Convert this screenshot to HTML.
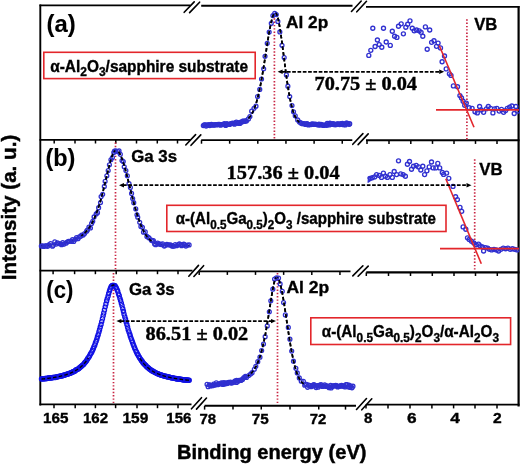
<!DOCTYPE html>
<html><head><meta charset="utf-8"><title>XPS band offset figure</title>
<style>html,body{margin:0;padding:0;background:#fff;}svg{display:block;filter:blur(0.35px);}</style></head>
<body><svg width="520" height="464" viewBox="0 0 520 464">
<rect width="520" height="464" fill="#fff"/>
<line x1="39.5" y1="5.4" x2="190.5" y2="5.4" stroke="#000" stroke-width="1.9"/>
<line x1="201.2" y1="5.7" x2="352.5" y2="5.7" stroke="#000" stroke-width="1.9"/>
<line x1="366" y1="6.9" x2="519.5" y2="6.9" stroke="#000" stroke-width="1.9"/>
<line x1="184.2" y1="12.3" x2="194.2" y2="1.9" stroke="#000" stroke-width="1.6" stroke-linecap="round"/>
<line x1="189.6" y1="12.6" x2="199.6" y2="2.2" stroke="#000" stroke-width="1.6" stroke-linecap="round"/>
<line x1="351.5" y1="11.5" x2="361.2" y2="1" stroke="#000" stroke-width="1.6" stroke-linecap="round"/>
<line x1="356.8" y1="11.8" x2="366.5" y2="1.3" stroke="#000" stroke-width="1.6" stroke-linecap="round"/>
<line x1="39.5" y1="139.9" x2="190.8" y2="139.9" stroke="#000" stroke-width="1.9"/>
<line x1="201.2" y1="140.1" x2="352.3" y2="140.1" stroke="#000" stroke-width="1.9"/>
<line x1="366" y1="140.3" x2="519.5" y2="140.3" stroke="#000" stroke-width="1.9"/>
<line x1="185.8" y1="145" x2="195.6" y2="134.6" stroke="#000" stroke-width="1.6" stroke-linecap="round"/>
<line x1="191" y1="145.3" x2="200.8" y2="134.9" stroke="#000" stroke-width="1.6" stroke-linecap="round"/>
<line x1="352.8" y1="144.3" x2="362.9" y2="133.6" stroke="#000" stroke-width="1.6" stroke-linecap="round"/>
<line x1="358.1" y1="144.6" x2="368.2" y2="133.9" stroke="#000" stroke-width="1.6" stroke-linecap="round"/>
<line x1="54.2" y1="139.9" x2="54.2" y2="143.5" stroke="#000" stroke-width="1.5"/>
<line x1="75" y1="139.9" x2="75" y2="143.5" stroke="#000" stroke-width="1.5"/>
<line x1="95.5" y1="139.9" x2="95.5" y2="143.5" stroke="#000" stroke-width="1.5"/>
<line x1="115.8" y1="139.9" x2="115.8" y2="143.5" stroke="#000" stroke-width="1.5"/>
<line x1="136.5" y1="139.9" x2="136.5" y2="143.5" stroke="#000" stroke-width="1.5"/>
<line x1="157.3" y1="139.9" x2="157.3" y2="143.5" stroke="#000" stroke-width="1.5"/>
<line x1="177.5" y1="139.9" x2="177.5" y2="143.5" stroke="#000" stroke-width="1.5"/>
<line x1="201.5" y1="140.1" x2="201.5" y2="143.7" stroke="#000" stroke-width="1.5"/>
<line x1="229.65" y1="140.1" x2="229.65" y2="143.7" stroke="#000" stroke-width="1.5"/>
<line x1="257.8" y1="140.1" x2="257.8" y2="143.7" stroke="#000" stroke-width="1.5"/>
<line x1="285.95" y1="140.1" x2="285.95" y2="143.7" stroke="#000" stroke-width="1.5"/>
<line x1="314.1" y1="140.1" x2="314.1" y2="143.7" stroke="#000" stroke-width="1.5"/>
<line x1="342.25" y1="140.1" x2="342.25" y2="143.7" stroke="#000" stroke-width="1.5"/>
<line x1="367" y1="140.3" x2="367" y2="143.9" stroke="#000" stroke-width="1.5"/>
<line x1="389" y1="140.3" x2="389" y2="143.9" stroke="#000" stroke-width="1.5"/>
<line x1="410.8" y1="140.3" x2="410.8" y2="143.9" stroke="#000" stroke-width="1.5"/>
<line x1="432.5" y1="140.3" x2="432.5" y2="143.9" stroke="#000" stroke-width="1.5"/>
<line x1="454" y1="140.3" x2="454" y2="143.9" stroke="#000" stroke-width="1.5"/>
<line x1="475.5" y1="140.3" x2="475.5" y2="143.9" stroke="#000" stroke-width="1.5"/>
<line x1="497" y1="140.3" x2="497" y2="143.9" stroke="#000" stroke-width="1.5"/>
<line x1="39.5" y1="270.6" x2="192.5" y2="270.6" stroke="#000" stroke-width="1.9"/>
<line x1="199.5" y1="271.4" x2="350.5" y2="271.4" stroke="#000" stroke-width="1.9"/>
<line x1="366.3" y1="272.4" x2="519.5" y2="272.4" stroke="#000" stroke-width="2.4"/>
<line x1="188.8" y1="276.2" x2="198.5" y2="265.4" stroke="#000" stroke-width="1.6" stroke-linecap="round"/>
<line x1="193.9" y1="276.5" x2="203.6" y2="265.7" stroke="#000" stroke-width="1.6" stroke-linecap="round"/>
<line x1="352.8" y1="275.9" x2="362.9" y2="265.8" stroke="#000" stroke-width="1.6" stroke-linecap="round"/>
<line x1="358.1" y1="276.2" x2="368.2" y2="266.1" stroke="#000" stroke-width="1.6" stroke-linecap="round"/>
<line x1="53.1" y1="270.6" x2="53.1" y2="274.2" stroke="#000" stroke-width="1.5"/>
<line x1="74.6" y1="270.6" x2="74.6" y2="274.2" stroke="#000" stroke-width="1.5"/>
<line x1="95.4" y1="270.6" x2="95.4" y2="274.2" stroke="#000" stroke-width="1.5"/>
<line x1="116.2" y1="270.6" x2="116.2" y2="274.2" stroke="#000" stroke-width="1.5"/>
<line x1="136.8" y1="270.6" x2="136.8" y2="274.2" stroke="#000" stroke-width="1.5"/>
<line x1="157.5" y1="270.6" x2="157.5" y2="274.2" stroke="#000" stroke-width="1.5"/>
<line x1="178" y1="270.6" x2="178" y2="274.2" stroke="#000" stroke-width="1.5"/>
<line x1="199.2" y1="271.3" x2="199.2" y2="274.9" stroke="#000" stroke-width="1.5"/>
<line x1="227.35" y1="271.3" x2="227.35" y2="274.9" stroke="#000" stroke-width="1.5"/>
<line x1="255.5" y1="271.3" x2="255.5" y2="274.9" stroke="#000" stroke-width="1.5"/>
<line x1="283.65" y1="271.3" x2="283.65" y2="274.9" stroke="#000" stroke-width="1.5"/>
<line x1="311.8" y1="271.3" x2="311.8" y2="274.9" stroke="#000" stroke-width="1.5"/>
<line x1="339.95" y1="271.3" x2="339.95" y2="274.9" stroke="#000" stroke-width="1.5"/>
<line x1="366.3" y1="272.4" x2="366.3" y2="276" stroke="#000" stroke-width="1.5"/>
<line x1="388.5" y1="272.4" x2="388.5" y2="276" stroke="#000" stroke-width="1.5"/>
<line x1="410.5" y1="272.4" x2="410.5" y2="276" stroke="#000" stroke-width="1.5"/>
<line x1="432.3" y1="272.4" x2="432.3" y2="276" stroke="#000" stroke-width="1.5"/>
<line x1="454" y1="272.4" x2="454" y2="276" stroke="#000" stroke-width="1.5"/>
<line x1="475.5" y1="272.4" x2="475.5" y2="276" stroke="#000" stroke-width="1.5"/>
<line x1="497.3" y1="272.4" x2="497.3" y2="276" stroke="#000" stroke-width="1.5"/>
<line x1="39.5" y1="404.4" x2="191.5" y2="404.4" stroke="#000" stroke-width="1.9"/>
<line x1="204.6" y1="405.8" x2="356" y2="405.8" stroke="#000" stroke-width="1.9"/>
<line x1="366.5" y1="404.6" x2="519.5" y2="404.6" stroke="#000" stroke-width="1.9"/>
<line x1="191.5" y1="408.8" x2="201.5" y2="397.7" stroke="#000" stroke-width="1.6" stroke-linecap="round"/>
<line x1="196.5" y1="409.1" x2="206.5" y2="398" stroke="#000" stroke-width="1.6" stroke-linecap="round"/>
<line x1="356.5" y1="409.5" x2="366.5" y2="398.5" stroke="#000" stroke-width="1.6" stroke-linecap="round"/>
<line x1="361.8" y1="409.8" x2="371.8" y2="398.8" stroke="#000" stroke-width="1.6" stroke-linecap="round"/>
<line x1="54" y1="404.4" x2="54" y2="408.2" stroke="#000" stroke-width="1.5"/>
<line x1="75.2" y1="404.4" x2="75.2" y2="408.2" stroke="#000" stroke-width="1.5"/>
<line x1="95.4" y1="404.4" x2="95.4" y2="408.2" stroke="#000" stroke-width="1.5"/>
<line x1="115.6" y1="404.4" x2="115.6" y2="408.2" stroke="#000" stroke-width="1.5"/>
<line x1="137" y1="404.4" x2="137" y2="408.2" stroke="#000" stroke-width="1.5"/>
<line x1="157.5" y1="404.4" x2="157.5" y2="408.2" stroke="#000" stroke-width="1.5"/>
<line x1="178" y1="404.4" x2="178" y2="408.2" stroke="#000" stroke-width="1.5"/>
<line x1="204.6" y1="405.8" x2="204.6" y2="409.6" stroke="#000" stroke-width="1.5"/>
<line x1="233" y1="405.8" x2="233" y2="409.6" stroke="#000" stroke-width="1.5"/>
<line x1="261.25" y1="405.8" x2="261.25" y2="409.6" stroke="#000" stroke-width="1.5"/>
<line x1="290" y1="405.8" x2="290" y2="409.6" stroke="#000" stroke-width="1.5"/>
<line x1="318.75" y1="405.8" x2="318.75" y2="409.6" stroke="#000" stroke-width="1.5"/>
<line x1="345.5" y1="405.8" x2="345.5" y2="409.6" stroke="#000" stroke-width="1.5"/>
<line x1="366" y1="404.6" x2="366" y2="408.4" stroke="#000" stroke-width="1.5"/>
<line x1="388" y1="404.6" x2="388" y2="408.4" stroke="#000" stroke-width="1.5"/>
<line x1="410" y1="404.6" x2="410" y2="408.4" stroke="#000" stroke-width="1.5"/>
<line x1="431.9" y1="404.6" x2="431.9" y2="408.4" stroke="#000" stroke-width="1.5"/>
<line x1="453.6" y1="404.6" x2="453.6" y2="408.4" stroke="#000" stroke-width="1.5"/>
<line x1="475" y1="404.6" x2="475" y2="408.4" stroke="#000" stroke-width="1.5"/>
<line x1="497" y1="404.6" x2="497" y2="408.4" stroke="#000" stroke-width="1.5"/>
<line x1="40.3" y1="4.5" x2="40.3" y2="405.4" stroke="#000" stroke-width="1.9"/>
<line x1="518.6" y1="6" x2="518.6" y2="406.4" stroke="#000" stroke-width="2.2"/>
<line x1="274.4" y1="15" x2="274.4" y2="139" stroke="#c82442" stroke-width="1.7" stroke-dasharray="1.4 1.9"/>
<line x1="466.9" y1="19.3" x2="466.9" y2="139.5" stroke="#c82442" stroke-width="1.7" stroke-dasharray="1.4 1.9"/>
<line x1="115.5" y1="142.5" x2="115.5" y2="270" stroke="#c82442" stroke-width="1.7" stroke-dasharray="1.4 1.9"/>
<line x1="474.7" y1="159.3" x2="474.7" y2="271" stroke="#c82442" stroke-width="1.7" stroke-dasharray="1.4 1.9"/>
<line x1="113.5" y1="273" x2="113.5" y2="404" stroke="#c82442" stroke-width="1.7" stroke-dasharray="1.4 1.9"/>
<line x1="277.5" y1="273" x2="277.5" y2="405" stroke="#c82442" stroke-width="1.7" stroke-dasharray="1.4 1.9"/>
<polyline points="203.3,125.41 203.59,125.4 203.89,125.39 204.18,125.38 204.48,125.37 204.77,125.36 205.07,125.35 205.36,125.34 205.66,125.33 205.95,125.32 206.25,125.31 206.54,125.29 206.84,125.28 207.13,125.27 207.43,125.26 207.72,125.25 208.02,125.24 208.31,125.23 208.61,125.22 208.9,125.21 209.2,125.19 209.49,125.18 209.79,125.17 210.08,125.16 210.38,125.15 210.67,125.13 210.97,125.12 211.26,125.11 211.56,125.1 211.85,125.09 212.15,125.07 212.44,125.06 212.74,125.05 213.03,125.03 213.33,125.02 213.62,125.01 213.92,124.99 214.21,124.98 214.51,124.97 214.8,124.95 215.1,124.94 215.39,124.92 215.69,124.91 215.98,124.9 216.28,124.88 216.57,124.87 216.87,124.85 217.16,124.84 217.46,124.82 217.75,124.81 218.05,124.79 218.34,124.77 218.64,124.76 218.93,124.74 219.23,124.73 219.52,124.71 219.82,124.69 220.11,124.68 220.41,124.66 220.7,124.64 221,124.62 221.29,124.61 221.59,124.59 221.88,124.57 222.18,124.55 222.47,124.53 222.77,124.52 223.06,124.5 223.36,124.48 223.65,124.46 223.95,124.44 224.24,124.42 224.54,124.4 224.83,124.38 225.13,124.36 225.42,124.33 225.72,124.31 226.01,124.29 226.31,124.27 226.6,124.25 226.9,124.22 227.19,124.2 227.49,124.18 227.78,124.15 228.08,124.13 228.37,124.1 228.67,124.08 228.96,124.05 229.26,124.03 229.55,124 229.85,123.98 230.14,123.95 230.44,123.92 230.73,123.89 231.03,123.86 231.32,123.83 231.62,123.81 231.91,123.77 232.21,123.74 232.5,123.71 232.8,123.68 233.09,123.65 233.39,123.61 233.68,123.58 233.98,123.54 234.27,123.51 234.57,123.47 234.86,123.43 235.16,123.39 235.45,123.35 235.75,123.31 236.04,123.27 236.34,123.23 236.63,123.18 236.93,123.14 237.22,123.09 237.52,123.04 237.81,122.99 238.11,122.94 238.4,122.88 238.7,122.83 238.99,122.77 239.29,122.71 239.58,122.64 239.88,122.58 240.17,122.51 240.47,122.44 240.76,122.36 241.06,122.28 241.35,122.2 241.65,122.12 241.94,122.03 242.24,121.93 242.53,121.84 242.83,121.73 243.12,121.62 243.42,121.51 243.71,121.39 244.01,121.26 244.3,121.13 244.6,120.99 244.89,120.85 245.19,120.69 245.48,120.53 245.78,120.35 246.07,120.17 246.37,119.98 246.66,119.78 246.96,119.56 247.25,119.34 247.55,119.1 247.84,118.85 248.14,118.59 248.43,118.31 248.73,118.01 249.02,117.7 249.32,117.38 249.61,117.03 249.91,116.67 250.2,116.29 250.5,115.89 250.79,115.47 251.09,115.03 251.38,114.56 251.68,114.07 251.97,113.56 252.27,113.02 252.56,112.46 252.86,111.87 253.15,111.25 253.45,110.6 253.74,109.93 254.04,109.22 254.33,108.48 254.63,107.71 254.92,106.91 255.22,106.08 255.51,105.21 255.81,104.31 256.1,103.37 256.4,102.39 256.69,101.38 256.99,100.33 257.28,99.25 257.58,98.13 257.87,96.97 258.17,95.77 258.46,94.53 258.76,93.26 259.05,91.95 259.35,90.6 259.64,89.21 259.94,87.79 260.23,86.33 260.53,84.83 260.82,83.3 261.12,81.73 261.41,80.14 261.71,78.5 262,76.84 262.3,75.15 262.59,73.43 262.89,71.68 263.18,69.91 263.48,68.11 263.77,66.29 264.07,64.45 264.36,62.6 264.66,60.73 264.95,58.85 265.25,56.96 265.54,55.06 265.84,53.16 266.13,51.26 266.43,49.36 266.72,47.47 267.02,45.59 267.31,43.71 267.61,41.86 267.9,40.03 268.2,38.22 268.49,36.44 268.79,34.69 269.08,32.97 269.38,31.3 269.67,29.68 269.97,28.1 270.26,26.58 270.56,25.11 270.85,23.71 271.15,22.37 271.44,21.11 271.74,19.92 272.03,18.81 272.33,17.78 272.62,16.85 272.92,16 273.21,15.24 273.51,14.58 273.8,14.02 274.1,13.57 274.39,13.21 274.69,12.96 274.98,12.81 275.28,12.78 275.57,12.86 275.87,13.08 276.16,13.43 276.46,13.91 276.75,14.52 277.05,15.25 277.34,16.11 277.64,17.09 277.93,18.18 278.23,19.39 278.52,20.71 278.82,22.13 279.11,23.65 279.41,25.26 279.7,26.96 280,28.75 280.29,30.61 280.59,32.54 280.88,34.54 281.18,36.59 281.47,38.7 281.77,40.85 282.06,43.04 282.36,45.27 282.65,47.53 282.95,49.8 283.24,52.1 283.54,54.4 283.83,56.71 284.13,59.02 284.42,61.32 284.72,63.61 285.01,65.88 285.31,68.14 285.6,70.37 285.9,72.57 286.19,74.74 286.49,76.87 286.78,78.96 287.08,81.01 287.37,83.02 287.67,84.98 287.96,86.88 288.26,88.74 288.55,90.55 288.85,92.3 289.14,93.99 289.44,95.63 289.73,97.21 290.03,98.74 290.32,100.2 290.62,101.61 290.91,102.96 291.21,104.26 291.5,105.5 291.8,106.68 292.09,107.81 292.39,108.88 292.68,109.91 292.98,110.88 293.27,111.8 293.57,112.67 293.86,113.49 294.16,114.27 294.45,115 294.75,115.69 295.04,116.34 295.34,116.95 295.63,117.53 295.93,118.06 296.22,118.56 296.52,119.03 296.81,119.47 297.11,119.88 297.4,120.26 297.7,120.61 297.99,120.94 298.29,121.24 298.58,121.52 298.88,121.78 299.17,122.02 299.47,122.24 299.76,122.45 300.06,122.63 300.35,122.81 300.65,122.96 300.94,123.11 301.24,123.24 301.53,123.36 301.83,123.48 302.12,123.58 302.42,123.67 302.71,123.75 303.01,123.83 303.3,123.9 303.6,123.96 303.89,124.02 304.19,124.07 304.48,124.12 304.78,124.16 305.07,124.2 305.37,124.24 305.66,124.27 305.96,124.3 306.25,124.32 306.55,124.35 306.84,124.37 307.14,124.38 307.43,124.4 307.73,124.42 308.02,124.43 308.32,124.44 308.61,124.45 308.91,124.46 309.2,124.47 309.5,124.48 309.79,124.48 310.09,124.49 310.38,124.49 310.68,124.5 310.97,124.5 311.27,124.51 311.56,124.51 311.86,124.51 312.15,124.52 312.45,124.52 312.74,124.52 313.04,124.52 313.33,124.52 313.63,124.52 313.92,124.52 314.22,124.52 314.51,124.52 314.81,124.52 315.1,124.52 315.4,124.52 315.69,124.52 315.99,124.52 316.28,124.52 316.58,124.52 316.87,124.52 317.17,124.52 317.46,124.52 317.76,124.52 318.05,124.52 318.35,124.52 318.64,124.52 318.94,124.52 319.23,124.52 319.53,124.52 319.82,124.51 320.12,124.51 320.41,124.51 320.71,124.51 321,124.51 321.3,124.51 321.59,124.51 321.89,124.5 322.18,124.5 322.48,124.5 322.77,124.5 323.07,124.5 323.36,124.5 323.66,124.49 323.95,124.49 324.25,124.49 324.54,124.49 324.84,124.49 325.13,124.49 325.43,124.48 325.72,124.48 326.02,124.48 326.31,124.48 326.61,124.48 326.9,124.47 327.2,124.47 327.49,124.47 327.79,124.47 328.08,124.46 328.38,124.46 328.67,124.46 328.97,124.46 329.26,124.46 329.56,124.45 329.85,124.45 330.15,124.45 330.44,124.45 330.74,124.44 331.03,124.44 331.33,124.44 331.62,124.44 331.92,124.43 332.21,124.43 332.51,124.43 332.8,124.43 333.1,124.42 333.39,124.42 333.69,124.42 333.98,124.42 334.28,124.41 334.57,124.41 334.87,124.41 335.16,124.41 335.46,124.4 335.75,124.4 336.05,124.4 336.34,124.39 336.64,124.39 336.93,124.39 337.23,124.39 337.52,124.38 337.82,124.38 338.11,124.38 338.41,124.38 338.7,124.37 339,124.37 339.29,124.37 339.59,124.36 339.88,124.36 340.18,124.36 340.47,124.36 340.77,124.35 341.06,124.35 341.36,124.35 341.65,124.34 341.95,124.34 342.24,124.34 342.54,124.34 342.83,124.33 343.13,124.33 343.42,124.33 343.72,124.32 344.01,124.32 344.31,124.32 344.6,124.31 344.9,124.31 345.19,124.31 345.49,124.31 345.78,124.3 346.08,124.3 346.37,124.3 346.67,124.29 346.96,124.29 347.26,124.29 347.55,124.28 347.85,124.28 348.14,124.28 348.44,124.27 348.73,124.27 349.03,124.27 349.32,124.26 349.62,124.26 349.91,124.26 350.21,124.26 350.5,124.25" fill="none" stroke="#000" stroke-width="1.7" stroke-dasharray="3.6 2.2"/>
<circle cx="203.3" cy="125.59" r="1.95" fill="none" stroke="#3030d0" stroke-width="1.3"/>
<circle cx="204.19" cy="124.84" r="1.95" fill="none" stroke="#3030d0" stroke-width="1.3"/>
<circle cx="205.1" cy="124.75" r="1.95" fill="none" stroke="#3030d0" stroke-width="1.3"/>
<circle cx="206.13" cy="126.11" r="1.95" fill="none" stroke="#3030d0" stroke-width="1.3"/>
<circle cx="206.97" cy="124.9" r="1.95" fill="none" stroke="#3030d0" stroke-width="1.3"/>
<circle cx="208.09" cy="125.45" r="1.95" fill="none" stroke="#3030d0" stroke-width="1.3"/>
<circle cx="208.96" cy="124.65" r="1.95" fill="none" stroke="#3030d0" stroke-width="1.3"/>
<circle cx="209.87" cy="125.58" r="1.95" fill="none" stroke="#3030d0" stroke-width="1.3"/>
<circle cx="210.58" cy="124.85" r="1.95" fill="none" stroke="#3030d0" stroke-width="1.3"/>
<circle cx="211.42" cy="124.32" r="1.95" fill="none" stroke="#3030d0" stroke-width="1.3"/>
<circle cx="212.37" cy="124.91" r="1.95" fill="none" stroke="#3030d0" stroke-width="1.3"/>
<circle cx="213.41" cy="125.17" r="1.95" fill="none" stroke="#3030d0" stroke-width="1.3"/>
<circle cx="214.61" cy="124.85" r="1.95" fill="none" stroke="#3030d0" stroke-width="1.3"/>
<circle cx="215.07" cy="124.6" r="1.95" fill="none" stroke="#3030d0" stroke-width="1.3"/>
<circle cx="216.45" cy="124.94" r="1.95" fill="none" stroke="#3030d0" stroke-width="1.3"/>
<circle cx="217.12" cy="124.54" r="1.95" fill="none" stroke="#3030d0" stroke-width="1.3"/>
<circle cx="218.16" cy="124.29" r="1.95" fill="none" stroke="#3030d0" stroke-width="1.3"/>
<circle cx="219.47" cy="124.24" r="1.95" fill="none" stroke="#3030d0" stroke-width="1.3"/>
<circle cx="220.21" cy="125.2" r="1.95" fill="none" stroke="#3030d0" stroke-width="1.3"/>
<circle cx="221.05" cy="124.55" r="1.95" fill="none" stroke="#3030d0" stroke-width="1.3"/>
<circle cx="222.12" cy="124.6" r="1.95" fill="none" stroke="#3030d0" stroke-width="1.3"/>
<circle cx="222.82" cy="124.54" r="1.95" fill="none" stroke="#3030d0" stroke-width="1.3"/>
<circle cx="224.22" cy="123.51" r="1.95" fill="none" stroke="#3030d0" stroke-width="1.3"/>
<circle cx="225.07" cy="124.44" r="1.95" fill="none" stroke="#3030d0" stroke-width="1.3"/>
<circle cx="225.74" cy="125.5" r="1.95" fill="none" stroke="#3030d0" stroke-width="1.3"/>
<circle cx="226.94" cy="123.51" r="1.95" fill="none" stroke="#3030d0" stroke-width="1.3"/>
<circle cx="227.75" cy="124.5" r="1.95" fill="none" stroke="#3030d0" stroke-width="1.3"/>
<circle cx="228.65" cy="124.49" r="1.95" fill="none" stroke="#3030d0" stroke-width="1.3"/>
<circle cx="229.61" cy="124.4" r="1.95" fill="none" stroke="#3030d0" stroke-width="1.3"/>
<circle cx="230.82" cy="123.5" r="1.95" fill="none" stroke="#3030d0" stroke-width="1.3"/>
<circle cx="231.54" cy="123.54" r="1.95" fill="none" stroke="#3030d0" stroke-width="1.3"/>
<circle cx="232.46" cy="123.01" r="1.95" fill="none" stroke="#3030d0" stroke-width="1.3"/>
<circle cx="233.28" cy="123.5" r="1.95" fill="none" stroke="#3030d0" stroke-width="1.3"/>
<circle cx="234.48" cy="124.19" r="1.95" fill="none" stroke="#3030d0" stroke-width="1.3"/>
<circle cx="235.02" cy="122.9" r="1.95" fill="none" stroke="#3030d0" stroke-width="1.3"/>
<circle cx="236.32" cy="122.05" r="1.95" fill="none" stroke="#3030d0" stroke-width="1.3"/>
<circle cx="237.06" cy="123.04" r="1.95" fill="none" stroke="#3030d0" stroke-width="1.3"/>
<circle cx="238.31" cy="123.36" r="1.95" fill="none" stroke="#3030d0" stroke-width="1.3"/>
<circle cx="238.96" cy="122.54" r="1.95" fill="none" stroke="#3030d0" stroke-width="1.3"/>
<circle cx="239.91" cy="123.47" r="1.95" fill="none" stroke="#3030d0" stroke-width="1.3"/>
<circle cx="240.82" cy="122.14" r="1.95" fill="none" stroke="#3030d0" stroke-width="1.3"/>
<circle cx="241.9" cy="121.99" r="1.95" fill="none" stroke="#3030d0" stroke-width="1.3"/>
<circle cx="242.74" cy="121.08" r="1.95" fill="none" stroke="#3030d0" stroke-width="1.3"/>
<circle cx="243.72" cy="121.12" r="1.95" fill="none" stroke="#3030d0" stroke-width="1.3"/>
<circle cx="244.87" cy="121.35" r="1.95" fill="none" stroke="#3030d0" stroke-width="1.3"/>
<circle cx="245.6" cy="120.86" r="1.95" fill="none" stroke="#3030d0" stroke-width="1.3"/>
<circle cx="246.44" cy="120.92" r="1.95" fill="none" stroke="#3030d0" stroke-width="1.3"/>
<circle cx="248.42" cy="118.9" r="1.95" fill="none" stroke="#3030d0" stroke-width="1.3"/>
<circle cx="249.91" cy="116.51" r="1.95" fill="none" stroke="#3030d0" stroke-width="1.3"/>
<circle cx="251.67" cy="111.15" r="1.95" fill="none" stroke="#3030d0" stroke-width="1.3"/>
<circle cx="253.97" cy="108.27" r="1.95" fill="none" stroke="#3030d0" stroke-width="1.3"/>
<circle cx="255.99" cy="106.14" r="1.95" fill="none" stroke="#3030d0" stroke-width="1.3"/>
<circle cx="257.57" cy="96.55" r="1.95" fill="none" stroke="#3030d0" stroke-width="1.3"/>
<circle cx="259.76" cy="89.43" r="1.95" fill="none" stroke="#3030d0" stroke-width="1.3"/>
<circle cx="261.53" cy="79.01" r="1.95" fill="none" stroke="#3030d0" stroke-width="1.3"/>
<circle cx="263.67" cy="68.74" r="1.95" fill="none" stroke="#3030d0" stroke-width="1.3"/>
<circle cx="265.03" cy="56.29" r="1.95" fill="none" stroke="#3030d0" stroke-width="1.3"/>
<circle cx="267.23" cy="43.25" r="1.95" fill="none" stroke="#3030d0" stroke-width="1.3"/>
<circle cx="269.18" cy="32.02" r="1.95" fill="none" stroke="#3030d0" stroke-width="1.3"/>
<circle cx="271.27" cy="23.32" r="1.95" fill="none" stroke="#3030d0" stroke-width="1.3"/>
<circle cx="272.89" cy="15.56" r="1.95" fill="none" stroke="#3030d0" stroke-width="1.3"/>
<circle cx="274.7" cy="13.38" r="1.95" fill="none" stroke="#3030d0" stroke-width="1.3"/>
<circle cx="276.28" cy="14.59" r="1.95" fill="none" stroke="#3030d0" stroke-width="1.3"/>
<circle cx="277.86" cy="21.45" r="1.95" fill="none" stroke="#3030d0" stroke-width="1.3"/>
<circle cx="279.86" cy="31.93" r="1.95" fill="none" stroke="#3030d0" stroke-width="1.3"/>
<circle cx="282.01" cy="45.31" r="1.95" fill="none" stroke="#3030d0" stroke-width="1.3"/>
<circle cx="284.18" cy="57.58" r="1.95" fill="none" stroke="#3030d0" stroke-width="1.3"/>
<circle cx="286.39" cy="74.92" r="1.95" fill="none" stroke="#3030d0" stroke-width="1.3"/>
<circle cx="287.88" cy="86.21" r="1.95" fill="none" stroke="#3030d0" stroke-width="1.3"/>
<circle cx="289.73" cy="96.49" r="1.95" fill="none" stroke="#3030d0" stroke-width="1.3"/>
<circle cx="291.99" cy="105.6" r="1.95" fill="none" stroke="#3030d0" stroke-width="1.3"/>
<circle cx="293.52" cy="111.8" r="1.95" fill="none" stroke="#3030d0" stroke-width="1.3"/>
<circle cx="295.23" cy="115.84" r="1.95" fill="none" stroke="#3030d0" stroke-width="1.3"/>
<circle cx="297.68" cy="119.97" r="1.95" fill="none" stroke="#3030d0" stroke-width="1.3"/>
<circle cx="299.47" cy="122.04" r="1.95" fill="none" stroke="#3030d0" stroke-width="1.3"/>
<circle cx="300.94" cy="122.97" r="1.95" fill="none" stroke="#3030d0" stroke-width="1.3"/>
<circle cx="301.9" cy="123.54" r="1.95" fill="none" stroke="#3030d0" stroke-width="1.3"/>
<circle cx="302.87" cy="123.63" r="1.95" fill="none" stroke="#3030d0" stroke-width="1.3"/>
<circle cx="303.63" cy="123.54" r="1.95" fill="none" stroke="#3030d0" stroke-width="1.3"/>
<circle cx="305.12" cy="123.77" r="1.95" fill="none" stroke="#3030d0" stroke-width="1.3"/>
<circle cx="305.57" cy="124.48" r="1.95" fill="none" stroke="#3030d0" stroke-width="1.3"/>
<circle cx="306.95" cy="123.48" r="1.95" fill="none" stroke="#3030d0" stroke-width="1.3"/>
<circle cx="307.6" cy="124.03" r="1.95" fill="none" stroke="#3030d0" stroke-width="1.3"/>
<circle cx="308.26" cy="124.89" r="1.95" fill="none" stroke="#3030d0" stroke-width="1.3"/>
<circle cx="309.52" cy="124.52" r="1.95" fill="none" stroke="#3030d0" stroke-width="1.3"/>
<circle cx="310.32" cy="124.77" r="1.95" fill="none" stroke="#3030d0" stroke-width="1.3"/>
<circle cx="311.3" cy="124.42" r="1.95" fill="none" stroke="#3030d0" stroke-width="1.3"/>
<circle cx="312.14" cy="123.79" r="1.95" fill="none" stroke="#3030d0" stroke-width="1.3"/>
<circle cx="313.52" cy="124.22" r="1.95" fill="none" stroke="#3030d0" stroke-width="1.3"/>
<circle cx="314.27" cy="124.5" r="1.95" fill="none" stroke="#3030d0" stroke-width="1.3"/>
<circle cx="315.08" cy="124.22" r="1.95" fill="none" stroke="#3030d0" stroke-width="1.3"/>
<circle cx="316.21" cy="124.34" r="1.95" fill="none" stroke="#3030d0" stroke-width="1.3"/>
<circle cx="317.01" cy="124.54" r="1.95" fill="none" stroke="#3030d0" stroke-width="1.3"/>
<circle cx="318.19" cy="124.93" r="1.95" fill="none" stroke="#3030d0" stroke-width="1.3"/>
<circle cx="318.99" cy="124.18" r="1.95" fill="none" stroke="#3030d0" stroke-width="1.3"/>
<circle cx="319.61" cy="125.08" r="1.95" fill="none" stroke="#3030d0" stroke-width="1.3"/>
<circle cx="320.97" cy="124.43" r="1.95" fill="none" stroke="#3030d0" stroke-width="1.3"/>
<circle cx="321.84" cy="124.97" r="1.95" fill="none" stroke="#3030d0" stroke-width="1.3"/>
<circle cx="322.83" cy="125.05" r="1.95" fill="none" stroke="#3030d0" stroke-width="1.3"/>
<circle cx="323.54" cy="125.4" r="1.95" fill="none" stroke="#3030d0" stroke-width="1.3"/>
<circle cx="324.34" cy="125.01" r="1.95" fill="none" stroke="#3030d0" stroke-width="1.3"/>
<circle cx="325.59" cy="125.01" r="1.95" fill="none" stroke="#3030d0" stroke-width="1.3"/>
<circle cx="326.78" cy="125.37" r="1.95" fill="none" stroke="#3030d0" stroke-width="1.3"/>
<circle cx="327.17" cy="123.46" r="1.95" fill="none" stroke="#3030d0" stroke-width="1.3"/>
<circle cx="328.47" cy="123.85" r="1.95" fill="none" stroke="#3030d0" stroke-width="1.3"/>
<circle cx="329.26" cy="124.96" r="1.95" fill="none" stroke="#3030d0" stroke-width="1.3"/>
<circle cx="329.9" cy="123.18" r="1.95" fill="none" stroke="#3030d0" stroke-width="1.3"/>
<circle cx="331.19" cy="124.47" r="1.95" fill="none" stroke="#3030d0" stroke-width="1.3"/>
<circle cx="332.04" cy="124.46" r="1.95" fill="none" stroke="#3030d0" stroke-width="1.3"/>
<circle cx="332.87" cy="123.52" r="1.95" fill="none" stroke="#3030d0" stroke-width="1.3"/>
<circle cx="333.93" cy="123.83" r="1.95" fill="none" stroke="#3030d0" stroke-width="1.3"/>
<circle cx="334.6" cy="124.71" r="1.95" fill="none" stroke="#3030d0" stroke-width="1.3"/>
<circle cx="335.83" cy="124.64" r="1.95" fill="none" stroke="#3030d0" stroke-width="1.3"/>
<circle cx="336.6" cy="124" r="1.95" fill="none" stroke="#3030d0" stroke-width="1.3"/>
<circle cx="337.54" cy="123.85" r="1.95" fill="none" stroke="#3030d0" stroke-width="1.3"/>
<circle cx="338.7" cy="123.9" r="1.95" fill="none" stroke="#3030d0" stroke-width="1.3"/>
<circle cx="339.66" cy="124.57" r="1.95" fill="none" stroke="#3030d0" stroke-width="1.3"/>
<circle cx="340.9" cy="123.52" r="1.95" fill="none" stroke="#3030d0" stroke-width="1.3"/>
<circle cx="341.64" cy="124.29" r="1.95" fill="none" stroke="#3030d0" stroke-width="1.3"/>
<circle cx="342.42" cy="123.47" r="1.95" fill="none" stroke="#3030d0" stroke-width="1.3"/>
<circle cx="343.28" cy="124.77" r="1.95" fill="none" stroke="#3030d0" stroke-width="1.3"/>
<circle cx="344.29" cy="124.37" r="1.95" fill="none" stroke="#3030d0" stroke-width="1.3"/>
<circle cx="345.19" cy="125" r="1.95" fill="none" stroke="#3030d0" stroke-width="1.3"/>
<circle cx="346.18" cy="122.98" r="1.95" fill="none" stroke="#3030d0" stroke-width="1.3"/>
<circle cx="347" cy="123.11" r="1.95" fill="none" stroke="#3030d0" stroke-width="1.3"/>
<circle cx="347.47" cy="123.96" r="1.95" fill="none" stroke="#3030d0" stroke-width="1.3"/>
<circle cx="349.24" cy="124.3" r="1.95" fill="none" stroke="#3030d0" stroke-width="1.3"/>
<circle cx="349.73" cy="123.69" r="1.95" fill="none" stroke="#3030d0" stroke-width="1.3"/>
<polyline points="246.66,119.78 246.96,119.56 247.25,119.34 247.55,119.1 247.84,118.85 248.14,118.59 248.43,118.31 248.73,118.01 249.02,117.7 249.32,117.38 249.61,117.03 249.91,116.67 250.2,116.29 250.5,115.89 250.79,115.47 251.09,115.03 251.38,114.56 251.68,114.07 251.97,113.56 252.27,113.02 252.56,112.46 252.86,111.87 253.15,111.25 253.45,110.6 253.74,109.93 254.04,109.22 254.33,108.48 254.63,107.71 254.92,106.91 255.22,106.08 255.51,105.21 255.81,104.31 256.1,103.37 256.4,102.39 256.69,101.38 256.99,100.33 257.28,99.25 257.58,98.13 257.87,96.97 258.17,95.77 258.46,94.53 258.76,93.26 259.05,91.95 259.35,90.6 259.64,89.21 259.94,87.79 260.23,86.33 260.53,84.83 260.82,83.3 261.12,81.73 261.41,80.14 261.71,78.5 262,76.84 262.3,75.15 262.59,73.43 262.89,71.68 263.18,69.91 263.48,68.11 263.77,66.29 264.07,64.45 264.36,62.6 264.66,60.73 264.95,58.85 265.25,56.96 265.54,55.06 265.84,53.16 266.13,51.26 266.43,49.36 266.72,47.47 267.02,45.59 267.31,43.71 267.61,41.86 267.9,40.03 268.2,38.22 268.49,36.44 268.79,34.69 269.08,32.97 269.38,31.3 269.67,29.68 269.97,28.1 270.26,26.58 270.56,25.11 270.85,23.71 271.15,22.37 271.44,21.11 271.74,19.92 272.03,18.81 272.33,17.78 272.62,16.85 272.92,16 273.21,15.24 273.51,14.58 273.8,14.02 274.1,13.57 274.39,13.21" fill="none" stroke="#000" stroke-width="1.7" stroke-dasharray="3.6 2.2" stroke-dashoffset="44.11"/>
<polyline points="275.87,13.08 276.16,13.43 276.46,13.91 276.75,14.52 277.05,15.25 277.34,16.11 277.64,17.09 277.93,18.18 278.23,19.39 278.52,20.71 278.82,22.13 279.11,23.65 279.41,25.26 279.7,26.96 280,28.75 280.29,30.61 280.59,32.54 280.88,34.54 281.18,36.59 281.47,38.7 281.77,40.85 282.06,43.04 282.36,45.27 282.65,47.53 282.95,49.8 283.24,52.1 283.54,54.4 283.83,56.71 284.13,59.02 284.42,61.32 284.72,63.61 285.01,65.88 285.31,68.14 285.6,70.37 285.9,72.57 286.19,74.74 286.49,76.87 286.78,78.96 287.08,81.01 287.37,83.02 287.67,84.98 287.96,86.88 288.26,88.74 288.55,90.55 288.85,92.3 289.14,93.99 289.44,95.63 289.73,97.21 290.03,98.74 290.32,100.2 290.62,101.61 290.91,102.96 291.21,104.26 291.5,105.5 291.8,106.68 292.09,107.81 292.39,108.88 292.68,109.91 292.98,110.88 293.27,111.8 293.57,112.67 293.86,113.49 294.16,114.27 294.45,115 294.75,115.69 295.04,116.34 295.34,116.95 295.63,117.53 295.93,118.06 296.22,118.56 296.52,119.03 296.81,119.47 297.11,119.88 297.4,120.26 297.7,120.61 297.99,120.94 298.29,121.24 298.58,121.52 298.88,121.78 299.17,122.02 299.47,122.24" fill="none" stroke="#000" stroke-width="1.7" stroke-dasharray="3.6 2.2" stroke-dashoffset="157.28"/>
<polyline points="41,245.92 41.3,245.9 41.6,245.87 41.9,245.84 42.19,245.81 42.49,245.79 42.79,245.76 43.09,245.73 43.39,245.7 43.69,245.67 43.99,245.64 44.28,245.61 44.58,245.58 44.88,245.55 45.18,245.52 45.48,245.49 45.78,245.46 46.08,245.43 46.37,245.4 46.67,245.36 46.97,245.33 47.27,245.3 47.57,245.27 47.87,245.23 48.17,245.2 48.46,245.16 48.76,245.13 49.06,245.09 49.36,245.06 49.66,245.02 49.96,244.99 50.26,244.95 50.56,244.91 50.85,244.88 51.15,244.84 51.45,244.8 51.75,244.76 52.05,244.72 52.35,244.68 52.65,244.64 52.94,244.6 53.24,244.56 53.54,244.52 53.84,244.48 54.14,244.44 54.44,244.39 54.74,244.35 55.03,244.31 55.33,244.26 55.63,244.22 55.93,244.17 56.23,244.13 56.53,244.08 56.83,244.03 57.12,243.98 57.42,243.94 57.72,243.89 58.02,243.84 58.32,243.79 58.62,243.74 58.92,243.68 59.21,243.63 59.51,243.58 59.81,243.53 60.11,243.47 60.41,243.42 60.71,243.36 61.01,243.3 61.3,243.25 61.6,243.19 61.9,243.13 62.2,243.07 62.5,243.01 62.8,242.95 63.1,242.88 63.39,242.82 63.69,242.76 63.99,242.69 64.29,242.62 64.59,242.56 64.89,242.49 65.19,242.42 65.48,242.35 65.78,242.28 66.08,242.2 66.38,242.13 66.68,242.05 66.98,241.98 67.28,241.9 67.58,241.82 67.87,241.74 68.17,241.66 68.47,241.58 68.77,241.49 69.07,241.41 69.37,241.32 69.67,241.23 69.96,241.14 70.26,241.05 70.56,240.95 70.86,240.86 71.16,240.76 71.46,240.66 71.76,240.56 72.05,240.46 72.35,240.35 72.65,240.24 72.95,240.13 73.25,240.02 73.55,239.91 73.85,239.79 74.14,239.67 74.44,239.55 74.74,239.43 75.04,239.3 75.34,239.17 75.64,239.04 75.94,238.91 76.23,238.77 76.53,238.63 76.83,238.48 77.13,238.33 77.43,238.18 77.73,238.03 78.03,237.87 78.32,237.71 78.62,237.54 78.92,237.37 79.22,237.19 79.52,237.01 79.82,236.83 80.12,236.64 80.41,236.45 80.71,236.25 81.01,236.05 81.31,235.84 81.61,235.62 81.91,235.4 82.21,235.18 82.51,234.94 82.8,234.71 83.1,234.46 83.4,234.21 83.7,233.95 84,233.69 84.3,233.41 84.6,233.13 84.89,232.85 85.19,232.55 85.49,232.25 85.79,231.93 86.09,231.61 86.39,231.28 86.69,230.94 86.98,230.59 87.28,230.24 87.58,229.87 87.88,229.49 88.18,229.1 88.48,228.7 88.78,228.29 89.07,227.87 89.37,227.44 89.67,226.99 89.97,226.53 90.27,226.06 90.57,225.58 90.87,225.09 91.16,224.58 91.46,224.06 91.76,223.52 92.06,222.97 92.36,222.41 92.66,221.83 92.96,221.23 93.25,220.63 93.55,220 93.85,219.36 94.15,218.71 94.45,218.04 94.75,217.35 95.05,216.64 95.34,215.92 95.64,215.19 95.94,214.43 96.24,213.66 96.54,212.87 96.84,212.06 97.14,211.24 97.43,210.4 97.73,209.54 98.03,208.66 98.33,207.76 98.63,206.85 98.93,205.92 99.23,204.97 99.53,204 99.82,203.01 100.12,202.01 100.42,200.99 100.72,199.95 101.02,198.89 101.32,197.82 101.62,196.73 101.91,195.62 102.21,194.5 102.51,193.37 102.81,192.21 103.11,191.05 103.41,189.87 103.71,188.68 104,187.47 104.3,186.26 104.6,185.03 104.9,183.8 105.2,182.56 105.5,181.31 105.8,180.05 106.09,178.8 106.39,177.54 106.69,176.28 106.99,175.02 107.29,173.76 107.59,172.51 107.89,171.27 108.18,170.04 108.48,168.82 108.78,167.61 109.08,166.42 109.38,165.25 109.68,164.11 109.98,162.99 110.27,161.89 110.57,160.83 110.87,159.81 111.17,158.82 111.47,157.87 111.77,156.96 112.07,156.1 112.36,155.29 112.66,154.53 112.96,153.82 113.26,153.17 113.56,152.58 113.86,152.05 114.16,151.59 114.45,151.19 114.75,150.86 115.05,150.6 115.35,150.4 115.65,150.28 115.95,150.23 116.25,150.24 116.55,150.29 116.84,150.39 117.14,150.54 117.44,150.73 117.74,150.96 118.04,151.24 118.34,151.56 118.64,151.93 118.93,152.33 119.23,152.78 119.53,153.27 119.83,153.8 120.13,154.37 120.43,154.98 120.73,155.63 121.02,156.31 121.32,157.03 121.62,157.78 121.92,158.56 122.22,159.38 122.52,160.23 122.82,161.1 123.11,162.01 123.41,162.94 123.71,163.9 124.01,164.88 124.31,165.89 124.61,166.92 124.91,167.97 125.2,169.04 125.5,170.12 125.8,171.23 126.1,172.35 126.4,173.48 126.7,174.63 127,175.79 127.29,176.96 127.59,178.13 127.89,179.32 128.19,180.51 128.49,181.71 128.79,182.91 129.09,184.12 129.38,185.33 129.68,186.54 129.98,187.75 130.28,188.96 130.58,190.17 130.88,191.37 131.18,192.57 131.47,193.77 131.77,194.96 132.07,196.14 132.37,197.31 132.67,198.48 132.97,199.64 133.27,200.79 133.57,201.92 133.86,203.05 134.16,204.16 134.46,205.27 134.76,206.35 135.06,207.43 135.36,208.49 135.66,209.54 135.95,210.57 136.25,211.58 136.55,212.58 136.85,213.57 137.15,214.53 137.45,215.48 137.75,216.42 138.04,217.33 138.34,218.23 138.64,219.11 138.94,219.97 139.24,220.81 139.54,221.64 139.84,222.45 140.13,223.24 140.43,224.01 140.73,224.76 141.03,225.49 141.33,226.21 141.63,226.91 141.93,227.59 142.22,228.25 142.52,228.89 142.82,229.52 143.12,230.13 143.42,230.72 143.72,231.3 144.02,231.85 144.31,232.4 144.61,232.92 144.91,233.43 145.21,233.92 145.51,234.4 145.81,234.86 146.11,235.31 146.4,235.74 146.7,236.15 147,236.56 147.3,236.95 147.6,237.32 147.9,237.68 148.2,238.03 148.49,238.37 148.79,238.69 149.09,239 149.39,239.3 149.69,239.59 149.99,239.87 150.29,240.13 150.59,240.39 150.88,240.63 151.18,240.87 151.48,241.09 151.78,241.31 152.08,241.52 152.38,241.72 152.68,241.91 152.97,242.09 153.27,242.26 153.57,242.43 153.87,242.59 154.17,242.74 154.47,242.89 154.77,243.03 155.06,243.16 155.36,243.29 155.66,243.41 155.96,243.52 156.26,243.63 156.56,243.74 156.86,243.84 157.15,243.93 157.45,244.02 157.75,244.11 158.05,244.19 158.35,244.27 158.65,244.34 158.95,244.41 159.24,244.48 159.54,244.55 159.84,244.61 160.14,244.66 160.44,244.72 160.74,244.77 161.04,244.82 161.33,244.87 161.63,244.91 161.93,244.95 162.23,244.99 162.53,245.03 162.83,245.07 163.13,245.1 163.42,245.13 163.72,245.16 164.02,245.19 164.32,245.22 164.62,245.25 164.92,245.27 165.22,245.29 165.52,245.32 165.81,245.34 166.11,245.36 166.41,245.38 166.71,245.4 167.01,245.41 167.31,245.43 167.61,245.44 167.9,245.46 168.2,245.47 168.5,245.49 168.8,245.5 169.1,245.51 169.4,245.52 169.7,245.53 169.99,245.54 170.29,245.55 170.59,245.56 170.89,245.57 171.19,245.58 171.49,245.59 171.79,245.59 172.08,245.6 172.38,245.61 172.68,245.61 172.98,245.62 173.28,245.62 173.58,245.63 173.88,245.63 174.17,245.64 174.47,245.64 174.77,245.65 175.07,245.65 175.37,245.66 175.67,245.66 175.97,245.66 176.26,245.67 176.56,245.67 176.86,245.67 177.16,245.68 177.46,245.68 177.76,245.68 178.06,245.68 178.35,245.69 178.65,245.69 178.95,245.69 179.25,245.69 179.55,245.69 179.85,245.7 180.15,245.7 180.44,245.7 180.74,245.7 181.04,245.7 181.34,245.7 181.64,245.7 181.94,245.71 182.24,245.71 182.54,245.71 182.83,245.71 183.13,245.71 183.43,245.71 183.73,245.71 184.03,245.71 184.33,245.71 184.63,245.71 184.92,245.71 185.22,245.71 185.52,245.71 185.82,245.71 186.12,245.71 186.42,245.71 186.72,245.71 187.01,245.71 187.31,245.71 187.61,245.71 187.91,245.71 188.21,245.71 188.51,245.71 188.81,245.71 189.1,245.71 189.4,245.71 189.7,245.71 190,245.7" fill="none" stroke="#000" stroke-width="1.7" stroke-dasharray="3.6 2.2"/>
<circle cx="41.34" cy="246.08" r="1.95" fill="none" stroke="#3030d0" stroke-width="1.3"/>
<circle cx="42.38" cy="245.74" r="1.95" fill="none" stroke="#3030d0" stroke-width="1.3"/>
<circle cx="43.75" cy="246.47" r="1.95" fill="none" stroke="#3030d0" stroke-width="1.3"/>
<circle cx="45.28" cy="245.74" r="1.95" fill="none" stroke="#3030d0" stroke-width="1.3"/>
<circle cx="46.17" cy="245.9" r="1.95" fill="none" stroke="#3030d0" stroke-width="1.3"/>
<circle cx="47.64" cy="246.33" r="1.95" fill="none" stroke="#3030d0" stroke-width="1.3"/>
<circle cx="48.84" cy="244.94" r="1.95" fill="none" stroke="#3030d0" stroke-width="1.3"/>
<circle cx="50.59" cy="243.59" r="1.95" fill="none" stroke="#3030d0" stroke-width="1.3"/>
<circle cx="52.48" cy="246.2" r="1.95" fill="none" stroke="#3030d0" stroke-width="1.3"/>
<circle cx="53.19" cy="245.32" r="1.95" fill="none" stroke="#3030d0" stroke-width="1.3"/>
<circle cx="54.81" cy="241.74" r="1.95" fill="none" stroke="#3030d0" stroke-width="1.3"/>
<circle cx="56.15" cy="244.09" r="1.95" fill="none" stroke="#3030d0" stroke-width="1.3"/>
<circle cx="57.46" cy="242.86" r="1.95" fill="none" stroke="#3030d0" stroke-width="1.3"/>
<circle cx="58.73" cy="243.53" r="1.95" fill="none" stroke="#3030d0" stroke-width="1.3"/>
<circle cx="60.54" cy="243.79" r="1.95" fill="none" stroke="#3030d0" stroke-width="1.3"/>
<circle cx="61.55" cy="244.73" r="1.95" fill="none" stroke="#3030d0" stroke-width="1.3"/>
<circle cx="62.75" cy="242.53" r="1.95" fill="none" stroke="#3030d0" stroke-width="1.3"/>
<circle cx="63.74" cy="244.19" r="1.95" fill="none" stroke="#3030d0" stroke-width="1.3"/>
<circle cx="65.95" cy="243.22" r="1.95" fill="none" stroke="#3030d0" stroke-width="1.3"/>
<circle cx="67.23" cy="242.07" r="1.95" fill="none" stroke="#3030d0" stroke-width="1.3"/>
<circle cx="68.46" cy="241.34" r="1.95" fill="none" stroke="#3030d0" stroke-width="1.3"/>
<circle cx="69.71" cy="241.25" r="1.95" fill="none" stroke="#3030d0" stroke-width="1.3"/>
<circle cx="71.59" cy="241.32" r="1.95" fill="none" stroke="#3030d0" stroke-width="1.3"/>
<circle cx="72.49" cy="239.72" r="1.95" fill="none" stroke="#3030d0" stroke-width="1.3"/>
<circle cx="73.69" cy="241.38" r="1.95" fill="none" stroke="#3030d0" stroke-width="1.3"/>
<circle cx="75.4" cy="239.28" r="1.95" fill="none" stroke="#3030d0" stroke-width="1.3"/>
<circle cx="76.52" cy="237.48" r="1.95" fill="none" stroke="#3030d0" stroke-width="1.3"/>
<circle cx="77.97" cy="238.76" r="1.95" fill="none" stroke="#3030d0" stroke-width="1.3"/>
<circle cx="79.24" cy="236.88" r="1.95" fill="none" stroke="#3030d0" stroke-width="1.3"/>
<circle cx="80.66" cy="236.35" r="1.95" fill="none" stroke="#3030d0" stroke-width="1.3"/>
<circle cx="81.62" cy="235.02" r="1.95" fill="none" stroke="#3030d0" stroke-width="1.3"/>
<circle cx="83.21" cy="235.04" r="1.95" fill="none" stroke="#3030d0" stroke-width="1.3"/>
<circle cx="84.61" cy="233.48" r="1.95" fill="none" stroke="#3030d0" stroke-width="1.3"/>
<circle cx="86.67" cy="231.17" r="1.95" fill="none" stroke="#3030d0" stroke-width="1.3"/>
<circle cx="87.4" cy="230.06" r="1.95" fill="none" stroke="#3030d0" stroke-width="1.3"/>
<circle cx="88.95" cy="227.05" r="1.95" fill="none" stroke="#3030d0" stroke-width="1.3"/>
<circle cx="90.46" cy="228" r="1.95" fill="none" stroke="#3030d0" stroke-width="1.3"/>
<circle cx="91.61" cy="223.45" r="1.95" fill="none" stroke="#3030d0" stroke-width="1.3"/>
<circle cx="92.75" cy="221.34" r="1.95" fill="none" stroke="#3030d0" stroke-width="1.3"/>
<circle cx="94.06" cy="216.97" r="1.95" fill="none" stroke="#3030d0" stroke-width="1.3"/>
<circle cx="96.18" cy="213.89" r="1.95" fill="none" stroke="#3030d0" stroke-width="1.3"/>
<circle cx="97.49" cy="212.67" r="1.95" fill="none" stroke="#3030d0" stroke-width="1.3"/>
<circle cx="98.62" cy="207.68" r="1.95" fill="none" stroke="#3030d0" stroke-width="1.3"/>
<circle cx="100.5" cy="202.53" r="1.95" fill="none" stroke="#3030d0" stroke-width="1.3"/>
<circle cx="101.1" cy="196.6" r="1.95" fill="none" stroke="#3030d0" stroke-width="1.3"/>
<circle cx="102.66" cy="194.31" r="1.95" fill="none" stroke="#3030d0" stroke-width="1.3"/>
<circle cx="104.31" cy="186.47" r="1.95" fill="none" stroke="#3030d0" stroke-width="1.3"/>
<circle cx="105.13" cy="181.25" r="1.95" fill="none" stroke="#3030d0" stroke-width="1.3"/>
<circle cx="106.85" cy="175.78" r="1.95" fill="none" stroke="#3030d0" stroke-width="1.3"/>
<circle cx="108.19" cy="170.56" r="1.95" fill="none" stroke="#3030d0" stroke-width="1.3"/>
<circle cx="109.41" cy="164.75" r="1.95" fill="none" stroke="#3030d0" stroke-width="1.3"/>
<circle cx="110.93" cy="159.73" r="1.95" fill="none" stroke="#3030d0" stroke-width="1.3"/>
<circle cx="112.39" cy="157.49" r="1.95" fill="none" stroke="#3030d0" stroke-width="1.3"/>
<circle cx="113.79" cy="152.54" r="1.95" fill="none" stroke="#3030d0" stroke-width="1.3"/>
<circle cx="114.47" cy="151.04" r="1.95" fill="none" stroke="#3030d0" stroke-width="1.3"/>
<circle cx="115.77" cy="150.83" r="1.95" fill="none" stroke="#3030d0" stroke-width="1.3"/>
<circle cx="117.98" cy="151.65" r="1.95" fill="none" stroke="#3030d0" stroke-width="1.3"/>
<circle cx="119.05" cy="150.85" r="1.95" fill="none" stroke="#3030d0" stroke-width="1.3"/>
<circle cx="120.35" cy="154.37" r="1.95" fill="none" stroke="#3030d0" stroke-width="1.3"/>
<circle cx="122.02" cy="160.58" r="1.95" fill="none" stroke="#3030d0" stroke-width="1.3"/>
<circle cx="123.27" cy="161.5" r="1.95" fill="none" stroke="#3030d0" stroke-width="1.3"/>
<circle cx="124.22" cy="166.73" r="1.95" fill="none" stroke="#3030d0" stroke-width="1.3"/>
<circle cx="125.89" cy="170.59" r="1.95" fill="none" stroke="#3030d0" stroke-width="1.3"/>
<circle cx="127.34" cy="175.87" r="1.95" fill="none" stroke="#3030d0" stroke-width="1.3"/>
<circle cx="129.01" cy="183.54" r="1.95" fill="none" stroke="#3030d0" stroke-width="1.3"/>
<circle cx="130.38" cy="187.55" r="1.95" fill="none" stroke="#3030d0" stroke-width="1.3"/>
<circle cx="131.57" cy="193.41" r="1.95" fill="none" stroke="#3030d0" stroke-width="1.3"/>
<circle cx="132.67" cy="198.61" r="1.95" fill="none" stroke="#3030d0" stroke-width="1.3"/>
<circle cx="133.77" cy="202.71" r="1.95" fill="none" stroke="#3030d0" stroke-width="1.3"/>
<circle cx="135.77" cy="208.91" r="1.95" fill="none" stroke="#3030d0" stroke-width="1.3"/>
<circle cx="136.96" cy="214.73" r="1.95" fill="none" stroke="#3030d0" stroke-width="1.3"/>
<circle cx="137.75" cy="217.23" r="1.95" fill="none" stroke="#3030d0" stroke-width="1.3"/>
<circle cx="139.69" cy="222.31" r="1.95" fill="none" stroke="#3030d0" stroke-width="1.3"/>
<circle cx="140.9" cy="226.47" r="1.95" fill="none" stroke="#3030d0" stroke-width="1.3"/>
<circle cx="142.44" cy="227.37" r="1.95" fill="none" stroke="#3030d0" stroke-width="1.3"/>
<circle cx="143.47" cy="232.16" r="1.95" fill="none" stroke="#3030d0" stroke-width="1.3"/>
<circle cx="145.26" cy="231.88" r="1.95" fill="none" stroke="#3030d0" stroke-width="1.3"/>
<circle cx="146.89" cy="236.46" r="1.95" fill="none" stroke="#3030d0" stroke-width="1.3"/>
<circle cx="148.26" cy="237.25" r="1.95" fill="none" stroke="#3030d0" stroke-width="1.3"/>
<circle cx="149.14" cy="238.02" r="1.95" fill="none" stroke="#3030d0" stroke-width="1.3"/>
<circle cx="151.36" cy="240.22" r="1.95" fill="none" stroke="#3030d0" stroke-width="1.3"/>
<circle cx="152.45" cy="240.8" r="1.95" fill="none" stroke="#3030d0" stroke-width="1.3"/>
<circle cx="153.39" cy="240.63" r="1.95" fill="none" stroke="#3030d0" stroke-width="1.3"/>
<circle cx="154.6" cy="243.99" r="1.95" fill="none" stroke="#3030d0" stroke-width="1.3"/>
<circle cx="155.7" cy="244.64" r="1.95" fill="none" stroke="#3030d0" stroke-width="1.3"/>
<circle cx="157.55" cy="242.98" r="1.95" fill="none" stroke="#3030d0" stroke-width="1.3"/>
<circle cx="158.67" cy="243.93" r="1.95" fill="none" stroke="#3030d0" stroke-width="1.3"/>
<circle cx="160.18" cy="244.14" r="1.95" fill="none" stroke="#3030d0" stroke-width="1.3"/>
<circle cx="161.31" cy="244.6" r="1.95" fill="none" stroke="#3030d0" stroke-width="1.3"/>
<circle cx="162.62" cy="243.79" r="1.95" fill="none" stroke="#3030d0" stroke-width="1.3"/>
<circle cx="164.29" cy="246.1" r="1.95" fill="none" stroke="#3030d0" stroke-width="1.3"/>
<circle cx="165.21" cy="245.33" r="1.95" fill="none" stroke="#3030d0" stroke-width="1.3"/>
<circle cx="166.85" cy="244.44" r="1.95" fill="none" stroke="#3030d0" stroke-width="1.3"/>
<circle cx="168.67" cy="244.96" r="1.95" fill="none" stroke="#3030d0" stroke-width="1.3"/>
<circle cx="170.23" cy="244.75" r="1.95" fill="none" stroke="#3030d0" stroke-width="1.3"/>
<circle cx="171.27" cy="245.35" r="1.95" fill="none" stroke="#3030d0" stroke-width="1.3"/>
<circle cx="172.29" cy="246.2" r="1.95" fill="none" stroke="#3030d0" stroke-width="1.3"/>
<circle cx="173.84" cy="246.24" r="1.95" fill="none" stroke="#3030d0" stroke-width="1.3"/>
<circle cx="175.25" cy="244.57" r="1.95" fill="none" stroke="#3030d0" stroke-width="1.3"/>
<circle cx="176.6" cy="245.72" r="1.95" fill="none" stroke="#3030d0" stroke-width="1.3"/>
<circle cx="178.29" cy="244.78" r="1.95" fill="none" stroke="#3030d0" stroke-width="1.3"/>
<circle cx="179.36" cy="243.97" r="1.95" fill="none" stroke="#3030d0" stroke-width="1.3"/>
<circle cx="180.94" cy="244.62" r="1.95" fill="none" stroke="#3030d0" stroke-width="1.3"/>
<circle cx="181.57" cy="245.65" r="1.95" fill="none" stroke="#3030d0" stroke-width="1.3"/>
<circle cx="183.81" cy="244.18" r="1.95" fill="none" stroke="#3030d0" stroke-width="1.3"/>
<circle cx="184.52" cy="244.97" r="1.95" fill="none" stroke="#3030d0" stroke-width="1.3"/>
<circle cx="185.88" cy="246.09" r="1.95" fill="none" stroke="#3030d0" stroke-width="1.3"/>
<circle cx="187.35" cy="244.99" r="1.95" fill="none" stroke="#3030d0" stroke-width="1.3"/>
<circle cx="189.13" cy="244.95" r="1.95" fill="none" stroke="#3030d0" stroke-width="1.3"/>
<polyline points="81.31,235.84 81.61,235.62 81.91,235.4 82.21,235.18 82.51,234.94 82.8,234.71 83.1,234.46 83.4,234.21 83.7,233.95 84,233.69 84.3,233.41 84.6,233.13 84.89,232.85 85.19,232.55 85.49,232.25 85.79,231.93 86.09,231.61 86.39,231.28 86.69,230.94 86.98,230.59 87.28,230.24 87.58,229.87 87.88,229.49 88.18,229.1 88.48,228.7 88.78,228.29 89.07,227.87 89.37,227.44 89.67,226.99 89.97,226.53 90.27,226.06 90.57,225.58 90.87,225.09 91.16,224.58 91.46,224.06 91.76,223.52 92.06,222.97 92.36,222.41 92.66,221.83 92.96,221.23 93.25,220.63 93.55,220 93.85,219.36 94.15,218.71 94.45,218.04 94.75,217.35 95.05,216.64 95.34,215.92 95.64,215.19 95.94,214.43 96.24,213.66 96.54,212.87 96.84,212.06 97.14,211.24 97.43,210.4 97.73,209.54 98.03,208.66 98.33,207.76 98.63,206.85 98.93,205.92 99.23,204.97 99.53,204 99.82,203.01 100.12,202.01 100.42,200.99 100.72,199.95 101.02,198.89 101.32,197.82 101.62,196.73 101.91,195.62 102.21,194.5 102.51,193.37 102.81,192.21 103.11,191.05 103.41,189.87 103.71,188.68 104,187.47 104.3,186.26 104.6,185.03 104.9,183.8 105.2,182.56 105.5,181.31 105.8,180.05 106.09,178.8 106.39,177.54 106.69,176.28 106.99,175.02 107.29,173.76 107.59,172.51 107.89,171.27 108.18,170.04 108.48,168.82 108.78,167.61 109.08,166.42 109.38,165.25 109.68,164.11 109.98,162.99 110.27,161.89 110.57,160.83 110.87,159.81 111.17,158.82 111.47,157.87 111.77,156.96 112.07,156.1 112.36,155.29 112.66,154.53 112.96,153.82 113.26,153.17 113.56,152.58 113.86,152.05 114.16,151.59 114.45,151.19 114.75,150.86 115.05,150.6" fill="none" stroke="#000" stroke-width="1.7" stroke-dasharray="3.6 2.2" stroke-dashoffset="41.98"/>
<polyline points="117.44,150.73 117.74,150.96 118.04,151.24 118.34,151.56 118.64,151.93 118.93,152.33 119.23,152.78 119.53,153.27 119.83,153.8 120.13,154.37 120.43,154.98 120.73,155.63 121.02,156.31 121.32,157.03 121.62,157.78 121.92,158.56 122.22,159.38 122.52,160.23 122.82,161.1 123.11,162.01 123.41,162.94 123.71,163.9 124.01,164.88 124.31,165.89 124.61,166.92 124.91,167.97 125.2,169.04 125.5,170.12 125.8,171.23 126.1,172.35 126.4,173.48 126.7,174.63 127,175.79 127.29,176.96 127.59,178.13 127.89,179.32 128.19,180.51 128.49,181.71 128.79,182.91 129.09,184.12 129.38,185.33 129.68,186.54 129.98,187.75 130.28,188.96 130.58,190.17 130.88,191.37 131.18,192.57 131.47,193.77 131.77,194.96 132.07,196.14 132.37,197.31 132.67,198.48 132.97,199.64 133.27,200.79 133.57,201.92 133.86,203.05 134.16,204.16 134.46,205.27 134.76,206.35 135.06,207.43 135.36,208.49 135.66,209.54 135.95,210.57 136.25,211.58 136.55,212.58 136.85,213.57 137.15,214.53 137.45,215.48 137.75,216.42 138.04,217.33 138.34,218.23 138.64,219.11 138.94,219.97 139.24,220.81 139.54,221.64 139.84,222.45 140.13,223.24 140.43,224.01 140.73,224.76 141.03,225.49 141.33,226.21 141.63,226.91 141.93,227.59 142.22,228.25 142.52,228.89 142.82,229.52 143.12,230.13 143.42,230.72 143.72,231.3 144.02,231.85 144.31,232.4 144.61,232.92 144.91,233.43 145.21,233.92 145.51,234.4 145.81,234.86 146.11,235.31 146.4,235.74 146.7,236.15 147,236.56 147.3,236.95 147.6,237.32 147.9,237.68 148.2,238.03 148.49,238.37 148.79,238.69 149.09,239 149.39,239.3 149.69,239.59 149.99,239.87 150.29,240.13 150.59,240.39 150.88,240.63 151.18,240.87 151.48,241.09 151.78,241.31" fill="none" stroke="#000" stroke-width="1.7" stroke-dasharray="3.6 2.2" stroke-dashoffset="137.76"/>
<circle cx="41.52" cy="378.92" r="2.05" fill="none" stroke="#1212e4" stroke-width="1.35"/>
<circle cx="42.15" cy="378.73" r="2.05" fill="none" stroke="#1212e4" stroke-width="1.35"/>
<circle cx="42.98" cy="378.88" r="2.05" fill="none" stroke="#1212e4" stroke-width="1.35"/>
<circle cx="43.61" cy="378.86" r="2.05" fill="none" stroke="#1212e4" stroke-width="1.35"/>
<circle cx="44.31" cy="378.79" r="2.05" fill="none" stroke="#1212e4" stroke-width="1.35"/>
<circle cx="45.09" cy="378.55" r="2.05" fill="none" stroke="#1212e4" stroke-width="1.35"/>
<circle cx="45.63" cy="378.48" r="2.05" fill="none" stroke="#1212e4" stroke-width="1.35"/>
<circle cx="46.34" cy="378.66" r="2.05" fill="none" stroke="#1212e4" stroke-width="1.35"/>
<circle cx="47.14" cy="378.32" r="2.05" fill="none" stroke="#1212e4" stroke-width="1.35"/>
<circle cx="47.74" cy="378.33" r="2.05" fill="none" stroke="#1212e4" stroke-width="1.35"/>
<circle cx="48.56" cy="377.87" r="2.05" fill="none" stroke="#1212e4" stroke-width="1.35"/>
<circle cx="49.22" cy="378.04" r="2.05" fill="none" stroke="#1212e4" stroke-width="1.35"/>
<circle cx="49.95" cy="377.94" r="2.05" fill="none" stroke="#1212e4" stroke-width="1.35"/>
<circle cx="50.59" cy="377.78" r="2.05" fill="none" stroke="#1212e4" stroke-width="1.35"/>
<circle cx="51.26" cy="378.11" r="2.05" fill="none" stroke="#1212e4" stroke-width="1.35"/>
<circle cx="52.04" cy="377.74" r="2.05" fill="none" stroke="#1212e4" stroke-width="1.35"/>
<circle cx="52.66" cy="377.41" r="2.05" fill="none" stroke="#1212e4" stroke-width="1.35"/>
<circle cx="53.38" cy="377.58" r="2.05" fill="none" stroke="#1212e4" stroke-width="1.35"/>
<circle cx="54.1" cy="377.45" r="2.05" fill="none" stroke="#1212e4" stroke-width="1.35"/>
<circle cx="54.75" cy="377.34" r="2.05" fill="none" stroke="#1212e4" stroke-width="1.35"/>
<circle cx="55.5" cy="377.42" r="2.05" fill="none" stroke="#1212e4" stroke-width="1.35"/>
<circle cx="56.28" cy="377.07" r="2.05" fill="none" stroke="#1212e4" stroke-width="1.35"/>
<circle cx="56.87" cy="376.95" r="2.05" fill="none" stroke="#1212e4" stroke-width="1.35"/>
<circle cx="57.57" cy="376.71" r="2.05" fill="none" stroke="#1212e4" stroke-width="1.35"/>
<circle cx="58.3" cy="376.52" r="2.05" fill="none" stroke="#1212e4" stroke-width="1.35"/>
<circle cx="59.03" cy="376.52" r="2.05" fill="none" stroke="#1212e4" stroke-width="1.35"/>
<circle cx="59.71" cy="376.35" r="2.05" fill="none" stroke="#1212e4" stroke-width="1.35"/>
<circle cx="60.37" cy="376.08" r="2.05" fill="none" stroke="#1212e4" stroke-width="1.35"/>
<circle cx="61.09" cy="375.97" r="2.05" fill="none" stroke="#1212e4" stroke-width="1.35"/>
<circle cx="61.81" cy="375.88" r="2.05" fill="none" stroke="#1212e4" stroke-width="1.35"/>
<circle cx="62.44" cy="375.72" r="2.05" fill="none" stroke="#1212e4" stroke-width="1.35"/>
<circle cx="63.14" cy="375.43" r="2.05" fill="none" stroke="#1212e4" stroke-width="1.35"/>
<circle cx="63.89" cy="375.02" r="2.05" fill="none" stroke="#1212e4" stroke-width="1.35"/>
<circle cx="64.6" cy="375.15" r="2.05" fill="none" stroke="#1212e4" stroke-width="1.35"/>
<circle cx="65.29" cy="374.86" r="2.05" fill="none" stroke="#1212e4" stroke-width="1.35"/>
<circle cx="65.98" cy="374.56" r="2.05" fill="none" stroke="#1212e4" stroke-width="1.35"/>
<circle cx="66.69" cy="374.39" r="2.05" fill="none" stroke="#1212e4" stroke-width="1.35"/>
<circle cx="67.4" cy="374.06" r="2.05" fill="none" stroke="#1212e4" stroke-width="1.35"/>
<circle cx="68.11" cy="374.02" r="2.05" fill="none" stroke="#1212e4" stroke-width="1.35"/>
<circle cx="68.79" cy="373.67" r="2.05" fill="none" stroke="#1212e4" stroke-width="1.35"/>
<circle cx="69.52" cy="373.22" r="2.05" fill="none" stroke="#1212e4" stroke-width="1.35"/>
<circle cx="70.22" cy="373.23" r="2.05" fill="none" stroke="#1212e4" stroke-width="1.35"/>
<circle cx="70.91" cy="372.96" r="2.05" fill="none" stroke="#1212e4" stroke-width="1.35"/>
<circle cx="71.57" cy="372.56" r="2.05" fill="none" stroke="#1212e4" stroke-width="1.35"/>
<circle cx="72.33" cy="372.34" r="2.05" fill="none" stroke="#1212e4" stroke-width="1.35"/>
<circle cx="73.01" cy="371.71" r="2.05" fill="none" stroke="#1212e4" stroke-width="1.35"/>
<circle cx="73.72" cy="371.77" r="2.05" fill="none" stroke="#1212e4" stroke-width="1.35"/>
<circle cx="74.45" cy="371.26" r="2.05" fill="none" stroke="#1212e4" stroke-width="1.35"/>
<circle cx="75.03" cy="370.98" r="2.05" fill="none" stroke="#1212e4" stroke-width="1.35"/>
<circle cx="75.79" cy="370.05" r="2.05" fill="none" stroke="#1212e4" stroke-width="1.35"/>
<circle cx="76.52" cy="369.78" r="2.05" fill="none" stroke="#1212e4" stroke-width="1.35"/>
<circle cx="77.14" cy="369.46" r="2.05" fill="none" stroke="#1212e4" stroke-width="1.35"/>
<circle cx="77.96" cy="369.03" r="2.05" fill="none" stroke="#1212e4" stroke-width="1.35"/>
<circle cx="78.61" cy="368.85" r="2.05" fill="none" stroke="#1212e4" stroke-width="1.35"/>
<circle cx="79.37" cy="368.05" r="2.05" fill="none" stroke="#1212e4" stroke-width="1.35"/>
<circle cx="79.99" cy="367.33" r="2.05" fill="none" stroke="#1212e4" stroke-width="1.35"/>
<circle cx="80.67" cy="367" r="2.05" fill="none" stroke="#1212e4" stroke-width="1.35"/>
<circle cx="81.42" cy="366.34" r="2.05" fill="none" stroke="#1212e4" stroke-width="1.35"/>
<circle cx="82.14" cy="365.56" r="2.05" fill="none" stroke="#1212e4" stroke-width="1.35"/>
<circle cx="82.8" cy="365.1" r="2.05" fill="none" stroke="#1212e4" stroke-width="1.35"/>
<circle cx="83.53" cy="364.43" r="2.05" fill="none" stroke="#1212e4" stroke-width="1.35"/>
<circle cx="84.22" cy="363.46" r="2.05" fill="none" stroke="#1212e4" stroke-width="1.35"/>
<circle cx="84.92" cy="362.55" r="2.05" fill="none" stroke="#1212e4" stroke-width="1.35"/>
<circle cx="85.53" cy="361.93" r="2.05" fill="none" stroke="#1212e4" stroke-width="1.35"/>
<circle cx="86.3" cy="360.98" r="2.05" fill="none" stroke="#1212e4" stroke-width="1.35"/>
<circle cx="86.92" cy="359.93" r="2.05" fill="none" stroke="#1212e4" stroke-width="1.35"/>
<circle cx="87.67" cy="358.84" r="2.05" fill="none" stroke="#1212e4" stroke-width="1.35"/>
<circle cx="88.3" cy="357.84" r="2.05" fill="none" stroke="#1212e4" stroke-width="1.35"/>
<circle cx="89.14" cy="356.81" r="2.05" fill="none" stroke="#1212e4" stroke-width="1.35"/>
<circle cx="89.77" cy="355.55" r="2.05" fill="none" stroke="#1212e4" stroke-width="1.35"/>
<circle cx="90.53" cy="353.87" r="2.05" fill="none" stroke="#1212e4" stroke-width="1.35"/>
<circle cx="91.19" cy="353.01" r="2.05" fill="none" stroke="#1212e4" stroke-width="1.35"/>
<circle cx="91.93" cy="351.76" r="2.05" fill="none" stroke="#1212e4" stroke-width="1.35"/>
<circle cx="92.65" cy="350.05" r="2.05" fill="none" stroke="#1212e4" stroke-width="1.35"/>
<circle cx="93.31" cy="348.52" r="2.05" fill="none" stroke="#1212e4" stroke-width="1.35"/>
<circle cx="93.98" cy="346.72" r="2.05" fill="none" stroke="#1212e4" stroke-width="1.35"/>
<circle cx="94.74" cy="345.24" r="2.05" fill="none" stroke="#1212e4" stroke-width="1.35"/>
<circle cx="95.39" cy="343.07" r="2.05" fill="none" stroke="#1212e4" stroke-width="1.35"/>
<circle cx="96.11" cy="341.31" r="2.05" fill="none" stroke="#1212e4" stroke-width="1.35"/>
<circle cx="96.8" cy="339.25" r="2.05" fill="none" stroke="#1212e4" stroke-width="1.35"/>
<circle cx="97.46" cy="336.83" r="2.05" fill="none" stroke="#1212e4" stroke-width="1.35"/>
<circle cx="98.19" cy="334.7" r="2.05" fill="none" stroke="#1212e4" stroke-width="1.35"/>
<circle cx="98.95" cy="331.97" r="2.05" fill="none" stroke="#1212e4" stroke-width="1.35"/>
<circle cx="99.56" cy="329.76" r="2.05" fill="none" stroke="#1212e4" stroke-width="1.35"/>
<circle cx="100.27" cy="326.89" r="2.05" fill="none" stroke="#1212e4" stroke-width="1.35"/>
<circle cx="101.05" cy="324.51" r="2.05" fill="none" stroke="#1212e4" stroke-width="1.35"/>
<circle cx="101.72" cy="321.6" r="2.05" fill="none" stroke="#1212e4" stroke-width="1.35"/>
<circle cx="102.45" cy="318.79" r="2.05" fill="none" stroke="#1212e4" stroke-width="1.35"/>
<circle cx="103.15" cy="315.78" r="2.05" fill="none" stroke="#1212e4" stroke-width="1.35"/>
<circle cx="103.76" cy="312.99" r="2.05" fill="none" stroke="#1212e4" stroke-width="1.35"/>
<circle cx="104.47" cy="310.09" r="2.05" fill="none" stroke="#1212e4" stroke-width="1.35"/>
<circle cx="105.21" cy="306.87" r="2.05" fill="none" stroke="#1212e4" stroke-width="1.35"/>
<circle cx="105.9" cy="304.01" r="2.05" fill="none" stroke="#1212e4" stroke-width="1.35"/>
<circle cx="106.64" cy="301.09" r="2.05" fill="none" stroke="#1212e4" stroke-width="1.35"/>
<circle cx="107.28" cy="298.6" r="2.05" fill="none" stroke="#1212e4" stroke-width="1.35"/>
<circle cx="108.1" cy="296.09" r="2.05" fill="none" stroke="#1212e4" stroke-width="1.35"/>
<circle cx="108.7" cy="293.38" r="2.05" fill="none" stroke="#1212e4" stroke-width="1.35"/>
<circle cx="109.47" cy="291.12" r="2.05" fill="none" stroke="#1212e4" stroke-width="1.35"/>
<circle cx="110.06" cy="289.23" r="2.05" fill="none" stroke="#1212e4" stroke-width="1.35"/>
<circle cx="110.82" cy="287.48" r="2.05" fill="none" stroke="#1212e4" stroke-width="1.35"/>
<circle cx="111.43" cy="286.14" r="2.05" fill="none" stroke="#1212e4" stroke-width="1.35"/>
<circle cx="112.23" cy="285.56" r="2.05" fill="none" stroke="#1212e4" stroke-width="1.35"/>
<circle cx="112.89" cy="285.56" r="2.05" fill="none" stroke="#1212e4" stroke-width="1.35"/>
<circle cx="113.63" cy="285.56" r="2.05" fill="none" stroke="#1212e4" stroke-width="1.35"/>
<circle cx="114.32" cy="285.56" r="2.05" fill="none" stroke="#1212e4" stroke-width="1.35"/>
<circle cx="114.98" cy="285.78" r="2.05" fill="none" stroke="#1212e4" stroke-width="1.35"/>
<circle cx="115.75" cy="286.89" r="2.05" fill="none" stroke="#1212e4" stroke-width="1.35"/>
<circle cx="116.37" cy="288.1" r="2.05" fill="none" stroke="#1212e4" stroke-width="1.35"/>
<circle cx="117.09" cy="289.79" r="2.05" fill="none" stroke="#1212e4" stroke-width="1.35"/>
<circle cx="117.73" cy="291.32" r="2.05" fill="none" stroke="#1212e4" stroke-width="1.35"/>
<circle cx="118.48" cy="293.87" r="2.05" fill="none" stroke="#1212e4" stroke-width="1.35"/>
<circle cx="119.24" cy="295.67" r="2.05" fill="none" stroke="#1212e4" stroke-width="1.35"/>
<circle cx="119.93" cy="298.36" r="2.05" fill="none" stroke="#1212e4" stroke-width="1.35"/>
<circle cx="120.59" cy="300.48" r="2.05" fill="none" stroke="#1212e4" stroke-width="1.35"/>
<circle cx="121.35" cy="303.2" r="2.05" fill="none" stroke="#1212e4" stroke-width="1.35"/>
<circle cx="122.03" cy="305.7" r="2.05" fill="none" stroke="#1212e4" stroke-width="1.35"/>
<circle cx="122.79" cy="308.74" r="2.05" fill="none" stroke="#1212e4" stroke-width="1.35"/>
<circle cx="123.43" cy="311.31" r="2.05" fill="none" stroke="#1212e4" stroke-width="1.35"/>
<circle cx="124.01" cy="314.02" r="2.05" fill="none" stroke="#1212e4" stroke-width="1.35"/>
<circle cx="124.79" cy="316.7" r="2.05" fill="none" stroke="#1212e4" stroke-width="1.35"/>
<circle cx="125.53" cy="319.25" r="2.05" fill="none" stroke="#1212e4" stroke-width="1.35"/>
<circle cx="126.12" cy="321.99" r="2.05" fill="none" stroke="#1212e4" stroke-width="1.35"/>
<circle cx="126.87" cy="324.46" r="2.05" fill="none" stroke="#1212e4" stroke-width="1.35"/>
<circle cx="127.57" cy="326.96" r="2.05" fill="none" stroke="#1212e4" stroke-width="1.35"/>
<circle cx="128.2" cy="329.64" r="2.05" fill="none" stroke="#1212e4" stroke-width="1.35"/>
<circle cx="129.01" cy="331.98" r="2.05" fill="none" stroke="#1212e4" stroke-width="1.35"/>
<circle cx="129.79" cy="334.1" r="2.05" fill="none" stroke="#1212e4" stroke-width="1.35"/>
<circle cx="130.32" cy="336.17" r="2.05" fill="none" stroke="#1212e4" stroke-width="1.35"/>
<circle cx="131.05" cy="338.34" r="2.05" fill="none" stroke="#1212e4" stroke-width="1.35"/>
<circle cx="131.8" cy="340.15" r="2.05" fill="none" stroke="#1212e4" stroke-width="1.35"/>
<circle cx="132.52" cy="342.17" r="2.05" fill="none" stroke="#1212e4" stroke-width="1.35"/>
<circle cx="133.21" cy="344.25" r="2.05" fill="none" stroke="#1212e4" stroke-width="1.35"/>
<circle cx="133.89" cy="346.03" r="2.05" fill="none" stroke="#1212e4" stroke-width="1.35"/>
<circle cx="134.58" cy="347.65" r="2.05" fill="none" stroke="#1212e4" stroke-width="1.35"/>
<circle cx="135.22" cy="349.36" r="2.05" fill="none" stroke="#1212e4" stroke-width="1.35"/>
<circle cx="136.08" cy="351.21" r="2.05" fill="none" stroke="#1212e4" stroke-width="1.35"/>
<circle cx="136.76" cy="352.48" r="2.05" fill="none" stroke="#1212e4" stroke-width="1.35"/>
<circle cx="137.37" cy="353.99" r="2.05" fill="none" stroke="#1212e4" stroke-width="1.35"/>
<circle cx="138.1" cy="355.09" r="2.05" fill="none" stroke="#1212e4" stroke-width="1.35"/>
<circle cx="138.79" cy="356.37" r="2.05" fill="none" stroke="#1212e4" stroke-width="1.35"/>
<circle cx="139.48" cy="357.54" r="2.05" fill="none" stroke="#1212e4" stroke-width="1.35"/>
<circle cx="140.15" cy="358.62" r="2.05" fill="none" stroke="#1212e4" stroke-width="1.35"/>
<circle cx="141" cy="359.74" r="2.05" fill="none" stroke="#1212e4" stroke-width="1.35"/>
<circle cx="141.59" cy="360.84" r="2.05" fill="none" stroke="#1212e4" stroke-width="1.35"/>
<circle cx="142.33" cy="361.56" r="2.05" fill="none" stroke="#1212e4" stroke-width="1.35"/>
<circle cx="142.99" cy="362.77" r="2.05" fill="none" stroke="#1212e4" stroke-width="1.35"/>
<circle cx="143.71" cy="363.51" r="2.05" fill="none" stroke="#1212e4" stroke-width="1.35"/>
<circle cx="144.47" cy="364.2" r="2.05" fill="none" stroke="#1212e4" stroke-width="1.35"/>
<circle cx="145.1" cy="365" r="2.05" fill="none" stroke="#1212e4" stroke-width="1.35"/>
<circle cx="145.87" cy="365.51" r="2.05" fill="none" stroke="#1212e4" stroke-width="1.35"/>
<circle cx="146.47" cy="366.41" r="2.05" fill="none" stroke="#1212e4" stroke-width="1.35"/>
<circle cx="147.23" cy="367.23" r="2.05" fill="none" stroke="#1212e4" stroke-width="1.35"/>
<circle cx="147.96" cy="367.52" r="2.05" fill="none" stroke="#1212e4" stroke-width="1.35"/>
<circle cx="148.63" cy="368.3" r="2.05" fill="none" stroke="#1212e4" stroke-width="1.35"/>
<circle cx="149.27" cy="368.98" r="2.05" fill="none" stroke="#1212e4" stroke-width="1.35"/>
<circle cx="149.96" cy="369.11" r="2.05" fill="none" stroke="#1212e4" stroke-width="1.35"/>
<circle cx="150.68" cy="369.69" r="2.05" fill="none" stroke="#1212e4" stroke-width="1.35"/>
<circle cx="151.37" cy="370.45" r="2.05" fill="none" stroke="#1212e4" stroke-width="1.35"/>
<circle cx="152.11" cy="371.08" r="2.05" fill="none" stroke="#1212e4" stroke-width="1.35"/>
<circle cx="152.79" cy="371.04" r="2.05" fill="none" stroke="#1212e4" stroke-width="1.35"/>
<circle cx="153.47" cy="371.53" r="2.05" fill="none" stroke="#1212e4" stroke-width="1.35"/>
<circle cx="154.15" cy="372.12" r="2.05" fill="none" stroke="#1212e4" stroke-width="1.35"/>
<circle cx="154.87" cy="372.13" r="2.05" fill="none" stroke="#1212e4" stroke-width="1.35"/>
<circle cx="155.63" cy="372.76" r="2.05" fill="none" stroke="#1212e4" stroke-width="1.35"/>
<circle cx="156.32" cy="373.12" r="2.05" fill="none" stroke="#1212e4" stroke-width="1.35"/>
<circle cx="157.03" cy="373.43" r="2.05" fill="none" stroke="#1212e4" stroke-width="1.35"/>
<circle cx="157.76" cy="373.79" r="2.05" fill="none" stroke="#1212e4" stroke-width="1.35"/>
<circle cx="158.42" cy="374.08" r="2.05" fill="none" stroke="#1212e4" stroke-width="1.35"/>
<circle cx="159.03" cy="374.27" r="2.05" fill="none" stroke="#1212e4" stroke-width="1.35"/>
<circle cx="159.79" cy="374.6" r="2.05" fill="none" stroke="#1212e4" stroke-width="1.35"/>
<circle cx="160.44" cy="375.07" r="2.05" fill="none" stroke="#1212e4" stroke-width="1.35"/>
<circle cx="161.2" cy="374.88" r="2.05" fill="none" stroke="#1212e4" stroke-width="1.35"/>
<circle cx="161.82" cy="375.26" r="2.05" fill="none" stroke="#1212e4" stroke-width="1.35"/>
<circle cx="162.6" cy="375.42" r="2.05" fill="none" stroke="#1212e4" stroke-width="1.35"/>
<circle cx="163.3" cy="375.65" r="2.05" fill="none" stroke="#1212e4" stroke-width="1.35"/>
<circle cx="164.02" cy="375.85" r="2.05" fill="none" stroke="#1212e4" stroke-width="1.35"/>
<circle cx="164.7" cy="376.3" r="2.05" fill="none" stroke="#1212e4" stroke-width="1.35"/>
<circle cx="165.52" cy="376.2" r="2.05" fill="none" stroke="#1212e4" stroke-width="1.35"/>
<circle cx="166.08" cy="376.41" r="2.05" fill="none" stroke="#1212e4" stroke-width="1.35"/>
<circle cx="166.84" cy="376.55" r="2.05" fill="none" stroke="#1212e4" stroke-width="1.35"/>
<circle cx="167.48" cy="376.89" r="2.05" fill="none" stroke="#1212e4" stroke-width="1.35"/>
<circle cx="168.16" cy="376.92" r="2.05" fill="none" stroke="#1212e4" stroke-width="1.35"/>
<circle cx="168.88" cy="376.91" r="2.05" fill="none" stroke="#1212e4" stroke-width="1.35"/>
<circle cx="169.53" cy="377.32" r="2.05" fill="none" stroke="#1212e4" stroke-width="1.35"/>
<circle cx="170.31" cy="377.51" r="2.05" fill="none" stroke="#1212e4" stroke-width="1.35"/>
<circle cx="170.92" cy="377.61" r="2.05" fill="none" stroke="#1212e4" stroke-width="1.35"/>
<circle cx="171.74" cy="377.91" r="2.05" fill="none" stroke="#1212e4" stroke-width="1.35"/>
<circle cx="172.4" cy="377.83" r="2.05" fill="none" stroke="#1212e4" stroke-width="1.35"/>
<circle cx="173.13" cy="378.01" r="2.05" fill="none" stroke="#1212e4" stroke-width="1.35"/>
<circle cx="173.75" cy="378.1" r="2.05" fill="none" stroke="#1212e4" stroke-width="1.35"/>
<circle cx="174.57" cy="378.38" r="2.05" fill="none" stroke="#1212e4" stroke-width="1.35"/>
<circle cx="175.25" cy="378.4" r="2.05" fill="none" stroke="#1212e4" stroke-width="1.35"/>
<circle cx="175.94" cy="378.5" r="2.05" fill="none" stroke="#1212e4" stroke-width="1.35"/>
<circle cx="176.59" cy="379.08" r="2.05" fill="none" stroke="#1212e4" stroke-width="1.35"/>
<circle cx="177.33" cy="378.74" r="2.05" fill="none" stroke="#1212e4" stroke-width="1.35"/>
<circle cx="178" cy="378.97" r="2.05" fill="none" stroke="#1212e4" stroke-width="1.35"/>
<circle cx="178.75" cy="378.96" r="2.05" fill="none" stroke="#1212e4" stroke-width="1.35"/>
<circle cx="179.32" cy="379.09" r="2.05" fill="none" stroke="#1212e4" stroke-width="1.35"/>
<circle cx="180.1" cy="379.25" r="2.05" fill="none" stroke="#1212e4" stroke-width="1.35"/>
<circle cx="180.86" cy="379.38" r="2.05" fill="none" stroke="#1212e4" stroke-width="1.35"/>
<circle cx="181.54" cy="379.26" r="2.05" fill="none" stroke="#1212e4" stroke-width="1.35"/>
<circle cx="182.24" cy="379.83" r="2.05" fill="none" stroke="#1212e4" stroke-width="1.35"/>
<circle cx="182.93" cy="379.64" r="2.05" fill="none" stroke="#1212e4" stroke-width="1.35"/>
<circle cx="183.61" cy="379.96" r="2.05" fill="none" stroke="#1212e4" stroke-width="1.35"/>
<circle cx="184.26" cy="379.76" r="2.05" fill="none" stroke="#1212e4" stroke-width="1.35"/>
<circle cx="185.02" cy="379.97" r="2.05" fill="none" stroke="#1212e4" stroke-width="1.35"/>
<circle cx="185.68" cy="379.99" r="2.05" fill="none" stroke="#1212e4" stroke-width="1.35"/>
<circle cx="186.39" cy="380.04" r="2.05" fill="none" stroke="#1212e4" stroke-width="1.35"/>
<circle cx="187.09" cy="379.93" r="2.05" fill="none" stroke="#1212e4" stroke-width="1.35"/>
<circle cx="187.8" cy="380.3" r="2.05" fill="none" stroke="#1212e4" stroke-width="1.35"/>
<circle cx="188.46" cy="380.21" r="2.05" fill="none" stroke="#1212e4" stroke-width="1.35"/>
<circle cx="189.23" cy="380.16" r="2.05" fill="none" stroke="#1212e4" stroke-width="1.35"/>
<polyline points="41.5,379.07 41.8,379.04 42.09,379.01 42.39,378.98 42.69,378.95 42.98,378.92 43.28,378.89 43.58,378.86 43.87,378.83 44.17,378.8 44.47,378.77 44.76,378.74 45.06,378.7 45.36,378.67 45.65,378.64 45.95,378.6 46.25,378.57 46.54,378.53 46.84,378.5 47.14,378.46 47.43,378.43 47.73,378.39 48.03,378.35 48.32,378.32 48.62,378.28 48.91,378.24 49.21,378.2 49.51,378.16 49.8,378.12 50.1,378.08 50.4,378.04 50.69,377.99 50.99,377.95 51.29,377.91 51.58,377.86 51.88,377.82 52.18,377.78 52.47,377.73 52.77,377.68 53.07,377.64 53.36,377.59 53.66,377.54 53.96,377.49 54.25,377.44 54.55,377.39 54.85,377.34 55.14,377.29 55.44,377.23 55.74,377.18 56.03,377.13 56.33,377.07 56.63,377.01 56.92,376.96 57.22,376.9 57.52,376.84 57.81,376.78 58.11,376.72 58.41,376.66 58.7,376.6 59,376.53 59.3,376.47 59.59,376.4 59.89,376.34 60.19,376.27 60.48,376.2 60.78,376.13 61.08,376.06 61.37,375.99 61.67,375.92 61.96,375.84 62.26,375.77 62.56,375.69 62.85,375.61 63.15,375.53 63.45,375.45 63.74,375.37 64.04,375.29 64.34,375.2 64.63,375.12 64.93,375.03 65.23,374.94 65.52,374.85 65.82,374.76 66.12,374.67 66.41,374.57 66.71,374.47 67.01,374.37 67.3,374.27 67.6,374.17 67.9,374.07 68.19,373.96 68.49,373.85 68.79,373.74 69.08,373.63 69.38,373.52 69.68,373.4 69.97,373.28 70.27,373.16 70.57,373.04 70.86,372.92 71.16,372.79 71.46,372.66 71.75,372.53 72.05,372.39 72.35,372.25 72.64,372.11 72.94,371.97 73.24,371.82 73.53,371.68 73.83,371.52 74.13,371.37 74.42,371.21 74.72,371.05 75.02,370.88 75.31,370.72 75.61,370.54 75.9,370.37 76.2,370.19 76.5,370.01 76.79,369.82 77.09,369.63 77.39,369.43 77.68,369.23 77.98,369.03 78.28,368.82 78.57,368.61 78.87,368.39 79.17,368.17 79.46,367.94 79.76,367.71 80.06,367.47 80.35,367.23 80.65,366.98 80.95,366.73 81.24,366.46 81.54,366.2 81.84,365.92 82.13,365.65 82.43,365.36 82.73,365.07 83.02,364.77 83.32,364.46 83.62,364.15 83.91,363.83 84.21,363.5 84.51,363.16 84.8,362.81 85.1,362.46 85.4,362.1 85.69,361.73 85.99,361.35 86.29,360.96 86.58,360.56 86.88,360.15 87.18,359.73 87.47,359.3 87.77,358.86 88.07,358.41 88.36,357.95" fill="none" stroke="#000" stroke-width="1.3" stroke-dasharray="3.6 2.2"/>
<polyline points="111.5,286.36 111.79,285.95 112.09,285.6 112.39,285.33 112.68,285.13 112.98,285.01 113.28,284.96 113.57,284.98 113.87,285.07 114.17,285.21 114.46,285.41 114.76,285.68 115.06,286 115.35,286.38 115.65,286.81" fill="none" stroke="#000" stroke-width="1.3" stroke-dasharray="3.6 2.2"/>
<polyline points="139.97,358.31 140.27,358.78 140.56,359.24 140.86,359.69 141.16,360.13 141.45,360.55 141.75,360.97 142.05,361.38 142.34,361.78 142.64,362.17 142.93,362.55 143.23,362.92 143.53,363.28 143.82,363.64 144.12,363.99 144.42,364.32 144.71,364.65 145.01,364.98 145.31,365.29 145.6,365.6 145.9,365.9 146.2,366.2 146.49,366.48 146.79,366.76 147.09,367.04 147.38,367.31 147.68,367.57 147.98,367.82 148.27,368.07 148.57,368.32 148.87,368.56 149.16,368.79 149.46,369.02 149.76,369.24 150.05,369.46 150.35,369.67 150.65,369.88 150.94,370.09 151.24,370.29 151.54,370.48 151.83,370.67 152.13,370.86 152.43,371.04 152.72,371.22 153.02,371.39 153.32,371.57 153.61,371.73 153.91,371.9 154.21,372.06 154.5,372.22 154.8,372.37 155.1,372.52 155.39,372.67 155.69,372.82 155.98,372.96 156.28,373.1 156.58,373.24 156.87,373.37 157.17,373.5 157.47,373.63 157.76,373.76 158.06,373.88 158.36,374 158.65,374.12 158.95,374.24 159.25,374.36 159.54,374.47 159.84,374.58 160.14,374.69 160.43,374.8 160.73,374.9 161.03,375.01 161.32,375.11 161.62,375.21 161.92,375.31 162.21,375.4 162.51,375.5 162.81,375.59 163.1,375.69 163.4,375.78 163.7,375.87 163.99,375.95 164.29,376.04 164.59,376.12 164.88,376.21 165.18,376.29 165.48,376.37 165.77,376.45 166.07,376.53 166.37,376.61 166.66,376.68 166.96,376.76 167.26,376.83 167.55,376.91 167.85,376.98 168.15,377.05 168.44,377.12 168.74,377.19 169.04,377.25 169.33,377.32 169.63,377.39 169.92,377.45 170.22,377.52 170.52,377.58 170.81,377.64 171.11,377.7 171.41,377.76 171.7,377.82 172,377.88 172.3,377.94 172.59,378 172.89,378.06 173.19,378.11 173.48,378.17 173.78,378.22 174.08,378.27 174.37,378.33 174.67,378.38 174.97,378.43 175.26,378.48 175.56,378.53 175.86,378.58 176.15,378.63 176.45,378.68 176.75,378.73 177.04,378.78 177.34,378.82 177.64,378.87 177.93,378.92 178.23,378.96 178.53,379.01 178.82,379.05 179.12,379.09 179.42,379.14 179.71,379.18 180.01,379.22 180.31,379.26 180.6,379.3 180.9,379.34 181.2,379.38 181.49,379.42 181.79,379.46 182.09,379.5 182.38,379.54 182.68,379.58 182.97,379.62 183.27,379.65 183.57,379.69 183.86,379.73 184.16,379.76 184.46,379.8 184.75,379.83 185.05,379.87 185.35,379.9 185.64,379.94 185.94,379.97 186.24,380 186.53,380.03 186.83,380.07 187.13,380.1 187.42,380.13 187.72,380.16 188.02,380.19 188.31,380.23 188.61,380.26 188.91,380.29 189.2,380.32 189.5,380.35" fill="none" stroke="#000" stroke-width="1.3" stroke-dasharray="3.6 2.2"/>
<polyline points="88.66,357.48 88.95,357 89.25,356.5 89.55,355.99 89.84,355.47 90.14,354.94 90.44,354.4 90.73,353.84 91.03,353.26 91.33,352.68 91.62,352.08 91.92,351.46 92.22,350.83 92.51,350.19 92.81,349.53 93.11,348.85 93.4,348.16 93.7,347.46 94,346.73 94.29,345.99 94.59,345.23 94.89,344.46 95.18,343.67 95.48,342.86 95.78,342.03 96.07,341.18 96.37,340.32 96.67,339.44 96.96,338.54 97.26,337.62 97.56,336.68 97.85,335.72 98.15,334.75 98.45,333.75 98.74,332.74 99.04,331.71 99.34,330.66 99.63,329.59 99.93,328.5 100.23,327.4 100.52,326.28 100.82,325.14 101.12,323.99 101.41,322.82 101.71,321.64 102.01,320.44 102.3,319.23 102.6,318.01 102.89,316.77 103.19,315.53 103.49,314.28 103.78,313.03 104.08,311.77 104.38,310.51 104.67,309.24 104.97,307.98 105.27,306.72 105.56,305.47 105.86,304.23 106.16,303 106.45,301.78 106.75,300.58 107.05,299.4 107.34,298.25 107.64,297.12 107.94,296.02 108.23,294.95 108.53,293.92 108.83,292.93 109.12,291.98 109.42,291.08 109.72,290.23 110.01,289.44 110.31,288.7 110.61,288.02 110.9,287.4 111.2,286.85" fill="none" stroke="#fff" stroke-width="1.0" stroke-dasharray="1.3 2.2" opacity="0.85"/>
<polyline points="115.94,287.3 116.24,287.84 116.54,288.43 116.83,289.07 117.13,289.76 117.43,290.5 117.72,291.27 118.02,292.09 118.32,292.94 118.61,293.83 118.91,294.76 119.21,295.71 119.5,296.7 119.8,297.71 120.1,298.74 120.39,299.79 120.69,300.87 120.99,301.96 121.28,303.06 121.58,304.18 121.88,305.31 122.17,306.45 122.47,307.59 122.77,308.74 123.06,309.89 123.36,311.05 123.66,312.2 123.95,313.35 124.25,314.51 124.55,315.65 124.84,316.8 125.14,317.93 125.44,319.06 125.73,320.18 126.03,321.3 126.33,322.4 126.62,323.49 126.92,324.57 127.22,325.65 127.51,326.7 127.81,327.75 128.11,328.78 128.4,329.8 128.7,330.81 128.99,331.8 129.29,332.78 129.59,333.74 129.88,334.69 130.18,335.62 130.48,336.54 130.77,337.44 131.07,338.33 131.37,339.21 131.66,340.06 131.96,340.91 132.26,341.73 132.55,342.55 132.85,343.34 133.15,344.13 133.44,344.89 133.74,345.65 134.04,346.38 134.33,347.11 134.63,347.82 134.93,348.51 135.22,349.19 135.52,349.86 135.82,350.51 136.11,351.15 136.41,351.78 136.71,352.39 137,352.99 137.3,353.58 137.6,354.15 137.89,354.71 138.19,355.26 138.49,355.8 138.78,356.33 139.08,356.84 139.38,357.34 139.67,357.83" fill="none" stroke="#fff" stroke-width="1.0" stroke-dasharray="1.3 2.2" opacity="0.85"/>
<polyline points="207,385.09 207.29,385.07 207.58,385.05 207.88,385.03 208.17,385.01 208.46,384.99 208.75,384.97 209.05,384.95 209.34,384.93 209.63,384.91 209.92,384.89 210.21,384.87 210.51,384.85 210.8,384.83 211.09,384.8 211.38,384.78 211.67,384.76 211.97,384.74 212.26,384.71 212.55,384.69 212.84,384.67 213.14,384.64 213.43,384.62 213.72,384.6 214.01,384.57 214.3,384.55 214.6,384.52 214.89,384.5 215.18,384.47 215.47,384.44 215.77,384.42 216.06,384.39 216.35,384.36 216.64,384.34 216.93,384.31 217.23,384.28 217.52,384.25 217.81,384.22 218.1,384.19 218.4,384.17 218.69,384.14 218.98,384.1 219.27,384.07 219.56,384.04 219.86,384.01 220.15,383.98 220.44,383.95 220.73,383.91 221.02,383.88 221.32,383.85 221.61,383.81 221.9,383.78 222.19,383.74 222.49,383.7 222.78,383.67 223.07,383.63 223.36,383.59 223.65,383.56 223.95,383.52 224.24,383.48 224.53,383.44 224.82,383.4 225.12,383.36 225.41,383.31 225.7,383.27 225.99,383.23 226.28,383.19 226.58,383.14 226.87,383.1 227.16,383.05 227.45,383 227.75,382.96 228.04,382.91 228.33,382.86 228.62,382.81 228.91,382.76 229.21,382.71 229.5,382.66 229.79,382.6 230.08,382.55 230.37,382.49 230.67,382.44 230.96,382.38 231.25,382.32 231.54,382.27 231.84,382.21 232.13,382.15 232.42,382.08 232.71,382.02 233,381.96 233.3,381.89 233.59,381.83 233.88,381.76 234.17,381.69 234.47,381.62 234.76,381.55 235.05,381.47 235.34,381.4 235.63,381.32 235.93,381.25 236.22,381.17 236.51,381.09 236.8,381.01 237.09,380.92 237.39,380.84 237.68,380.75 237.97,380.66 238.26,380.57 238.56,380.48 238.85,380.39 239.14,380.29 239.43,380.19 239.72,380.09 240.02,379.99 240.31,379.88 240.6,379.78 240.89,379.67 241.19,379.55 241.48,379.44 241.77,379.32 242.06,379.2 242.35,379.08 242.65,378.95 242.94,378.82 243.23,378.69 243.52,378.55 243.82,378.41 244.11,378.27 244.4,378.12 244.69,377.97 244.98,377.81 245.28,377.65 245.57,377.49 245.86,377.32 246.15,377.15 246.44,376.97 246.74,376.78 247.03,376.6 247.32,376.4 247.61,376.2 247.91,375.99 248.2,375.78 248.49,375.56 248.78,375.33 249.07,375.09 249.37,374.85 249.66,374.6 249.95,374.34 250.24,374.07 250.54,373.79 250.83,373.5 251.12,373.21 251.41,372.9 251.7,372.58 252,372.25 252.29,371.9 252.58,371.55 252.87,371.18 253.17,370.8 253.46,370.4 253.75,369.99 254.04,369.57 254.33,369.12 254.63,368.66 254.92,368.19 255.21,367.7 255.5,367.18 255.79,366.65 256.09,366.1 256.38,365.53 256.67,364.94 256.96,364.32 257.26,363.68 257.55,363.02 257.84,362.34 258.13,361.62 258.42,360.89 258.72,360.13 259.01,359.34 259.3,358.52 259.59,357.67 259.89,356.8 260.18,355.89 260.47,354.95 260.76,353.99 261.05,352.99 261.35,351.95 261.64,350.89 261.93,349.79 262.22,348.65 262.52,347.49 262.81,346.28 263.1,345.04 263.39,343.77 263.68,342.46 263.98,341.11 264.27,339.72 264.56,338.3 264.85,336.85 265.14,335.35 265.44,333.83 265.73,332.26 266.02,330.67 266.31,329.03 266.61,327.37 266.9,325.67 267.19,323.95 267.48,322.19 267.77,320.41 268.07,318.61 268.36,316.78 268.65,314.93 268.94,313.07 269.24,311.2 269.53,309.31 269.82,307.42 270.11,305.53 270.4,303.65 270.7,301.78 270.99,299.92 271.28,298.08 271.57,296.28 271.86,294.51 272.16,292.78 272.45,291.11 272.74,289.49 273.03,287.94 273.33,286.47 273.62,285.08 273.91,283.78 274.2,282.57 274.49,281.48 274.79,280.5 275.08,279.64 275.37,278.9 275.66,278.3 275.96,277.83 276.25,277.5 276.54,277.32 276.83,277.27 277.12,277.34 277.42,277.5 277.71,277.76 278,278.11 278.29,278.56 278.59,279.1 278.88,279.73 279.17,280.45 279.46,281.26 279.75,282.16 280.05,283.14 280.34,284.2 280.63,285.34 280.92,286.55 281.21,287.84 281.51,289.2 281.8,290.62 282.09,292.1 282.38,293.65 282.68,295.25 282.97,296.9 283.26,298.6 283.55,300.34 283.84,302.12 284.14,303.94 284.43,305.79 284.72,307.67 285.01,309.57 285.31,311.49 285.6,313.43 285.89,315.38 286.18,317.34 286.47,319.31 286.77,321.28 287.06,323.24 287.35,325.2 287.64,327.16 287.94,329.1 288.23,331.02 288.52,332.93 288.81,334.82 289.1,336.69 289.4,338.53 289.69,340.34 289.98,342.12 290.27,343.88 290.56,345.6 290.86,347.28 291.15,348.93 291.44,350.54 291.73,352.11 292.03,353.64 292.32,355.13 292.61,356.58 292.9,357.99 293.19,359.36 293.49,360.68 293.78,361.96 294.07,363.2 294.36,364.39 294.66,365.54 294.95,366.65 295.24,367.71 295.53,368.74 295.82,369.72 296.12,370.66 296.41,371.57 296.7,372.43 296.99,373.25 297.28,374.04 297.58,374.79 297.87,375.5 298.16,376.18 298.45,376.83 298.75,377.44 299.04,378.02 299.33,378.57 299.62,379.09 299.91,379.59 300.21,380.05 300.5,380.49 300.79,380.9 301.08,381.29 301.38,381.66 301.67,382 301.96,382.32 302.25,382.62 302.54,382.91 302.84,383.17 303.13,383.42 303.42,383.65 303.71,383.86 304.01,384.06 304.3,384.25 304.59,384.42 304.88,384.58 305.17,384.73 305.47,384.87 305.76,385 306.05,385.11 306.34,385.22 306.63,385.32 306.93,385.42 307.22,385.5 307.51,385.58 307.8,385.65 308.1,385.72 308.39,385.78 308.68,385.83 308.97,385.88 309.26,385.93 309.56,385.97 309.85,386.01 310.14,386.04 310.43,386.07 310.73,386.1 311.02,386.13 311.31,386.15 311.6,386.17 311.89,386.19 312.19,386.21 312.48,386.22 312.77,386.24 313.06,386.25 313.36,386.26 313.65,386.27 313.94,386.28 314.23,386.28 314.52,386.29 314.82,386.3 315.11,386.3 315.4,386.3 315.69,386.31 315.98,386.31 316.28,386.31 316.57,386.31 316.86,386.32 317.15,386.32 317.45,386.32 317.74,386.32 318.03,386.32 318.32,386.32 318.61,386.32 318.91,386.32 319.2,386.32 319.49,386.32 319.78,386.31 320.08,386.31 320.37,386.31 320.66,386.31 320.95,386.31 321.24,386.31 321.54,386.31 321.83,386.31 322.12,386.3 322.41,386.3 322.71,386.3 323,386.3 323.29,386.3 323.58,386.29 323.87,386.29 324.17,386.29 324.46,386.29 324.75,386.29 325.04,386.28 325.33,386.28 325.63,386.28 325.92,386.28 326.21,386.28 326.5,386.27 326.8,386.27 327.09,386.27 327.38,386.27 327.67,386.27 327.96,386.26 328.26,386.26 328.55,386.26 328.84,386.26 329.13,386.26 329.43,386.25 329.72,386.25 330.01,386.25 330.3,386.25 330.59,386.25 330.89,386.24 331.18,386.24 331.47,386.24 331.76,386.24 332.05,386.24 332.35,386.23 332.64,386.23 332.93,386.23 333.22,386.23 333.52,386.23 333.81,386.22 334.1,386.22 334.39,386.22 334.68,386.22 334.98,386.22 335.27,386.21 335.56,386.21 335.85,386.21 336.15,386.21 336.44,386.21 336.73,386.2 337.02,386.2 337.31,386.2 337.61,386.2 337.9,386.19 338.19,386.19 338.48,386.19 338.78,386.19 339.07,386.19 339.36,386.18 339.65,386.18 339.94,386.18 340.24,386.18 340.53,386.18 340.82,386.17 341.11,386.17 341.4,386.17 341.7,386.17 341.99,386.17 342.28,386.16 342.57,386.16 342.87,386.16 343.16,386.16 343.45,386.16 343.74,386.15 344.03,386.15 344.33,386.15 344.62,386.15 344.91,386.15 345.2,386.14 345.5,386.14 345.79,386.14 346.08,386.14 346.37,386.14 346.66,386.13 346.96,386.13 347.25,386.13 347.54,386.13 347.83,386.12 348.13,386.12 348.42,386.12 348.71,386.12 349,386.12 349.29,386.11 349.59,386.11 349.88,386.11 350.17,386.11 350.46,386.11 350.75,386.1 351.05,386.1 351.34,386.1 351.63,386.1 351.92,386.1 352.22,386.09 352.51,386.09 352.8,386.09" fill="none" stroke="#000" stroke-width="1.7" stroke-dasharray="3.6 2.2"/>
<circle cx="207.04" cy="384.34" r="1.95" fill="none" stroke="#3030d0" stroke-width="1.3"/>
<circle cx="208.18" cy="386.64" r="1.95" fill="none" stroke="#3030d0" stroke-width="1.3"/>
<circle cx="209.3" cy="384.81" r="1.95" fill="none" stroke="#3030d0" stroke-width="1.3"/>
<circle cx="209.98" cy="384.98" r="1.95" fill="none" stroke="#3030d0" stroke-width="1.3"/>
<circle cx="210.78" cy="385.91" r="1.95" fill="none" stroke="#3030d0" stroke-width="1.3"/>
<circle cx="211.42" cy="385.5" r="1.95" fill="none" stroke="#3030d0" stroke-width="1.3"/>
<circle cx="212.63" cy="385.67" r="1.95" fill="none" stroke="#3030d0" stroke-width="1.3"/>
<circle cx="213.62" cy="384.14" r="1.95" fill="none" stroke="#3030d0" stroke-width="1.3"/>
<circle cx="214.58" cy="385.04" r="1.95" fill="none" stroke="#3030d0" stroke-width="1.3"/>
<circle cx="215.47" cy="384.79" r="1.95" fill="none" stroke="#3030d0" stroke-width="1.3"/>
<circle cx="216.29" cy="382.87" r="1.95" fill="none" stroke="#3030d0" stroke-width="1.3"/>
<circle cx="217.53" cy="384.76" r="1.95" fill="none" stroke="#3030d0" stroke-width="1.3"/>
<circle cx="218.31" cy="384.22" r="1.95" fill="none" stroke="#3030d0" stroke-width="1.3"/>
<circle cx="219.44" cy="383.76" r="1.95" fill="none" stroke="#3030d0" stroke-width="1.3"/>
<circle cx="220.01" cy="383.85" r="1.95" fill="none" stroke="#3030d0" stroke-width="1.3"/>
<circle cx="221.35" cy="382.9" r="1.95" fill="none" stroke="#3030d0" stroke-width="1.3"/>
<circle cx="222.29" cy="383.31" r="1.95" fill="none" stroke="#3030d0" stroke-width="1.3"/>
<circle cx="222.75" cy="384.52" r="1.95" fill="none" stroke="#3030d0" stroke-width="1.3"/>
<circle cx="223.9" cy="382.61" r="1.95" fill="none" stroke="#3030d0" stroke-width="1.3"/>
<circle cx="224.78" cy="384.04" r="1.95" fill="none" stroke="#3030d0" stroke-width="1.3"/>
<circle cx="226.05" cy="382.96" r="1.95" fill="none" stroke="#3030d0" stroke-width="1.3"/>
<circle cx="226.83" cy="383.62" r="1.95" fill="none" stroke="#3030d0" stroke-width="1.3"/>
<circle cx="227.54" cy="383.22" r="1.95" fill="none" stroke="#3030d0" stroke-width="1.3"/>
<circle cx="228.61" cy="382.44" r="1.95" fill="none" stroke="#3030d0" stroke-width="1.3"/>
<circle cx="229.46" cy="382.69" r="1.95" fill="none" stroke="#3030d0" stroke-width="1.3"/>
<circle cx="230.51" cy="382.08" r="1.95" fill="none" stroke="#3030d0" stroke-width="1.3"/>
<circle cx="231.35" cy="383.07" r="1.95" fill="none" stroke="#3030d0" stroke-width="1.3"/>
<circle cx="232.42" cy="382.71" r="1.95" fill="none" stroke="#3030d0" stroke-width="1.3"/>
<circle cx="233.57" cy="382.3" r="1.95" fill="none" stroke="#3030d0" stroke-width="1.3"/>
<circle cx="234.74" cy="381.09" r="1.95" fill="none" stroke="#3030d0" stroke-width="1.3"/>
<circle cx="235.37" cy="381.21" r="1.95" fill="none" stroke="#3030d0" stroke-width="1.3"/>
<circle cx="236.53" cy="382.38" r="1.95" fill="none" stroke="#3030d0" stroke-width="1.3"/>
<circle cx="236.67" cy="380.25" r="1.95" fill="none" stroke="#3030d0" stroke-width="1.3"/>
<circle cx="238.16" cy="381.2" r="1.95" fill="none" stroke="#3030d0" stroke-width="1.3"/>
<circle cx="239.11" cy="380.3" r="1.95" fill="none" stroke="#3030d0" stroke-width="1.3"/>
<circle cx="240" cy="380.49" r="1.95" fill="none" stroke="#3030d0" stroke-width="1.3"/>
<circle cx="240.82" cy="380.4" r="1.95" fill="none" stroke="#3030d0" stroke-width="1.3"/>
<circle cx="241.31" cy="379.76" r="1.95" fill="none" stroke="#3030d0" stroke-width="1.3"/>
<circle cx="242.5" cy="379.59" r="1.95" fill="none" stroke="#3030d0" stroke-width="1.3"/>
<circle cx="243.61" cy="377.86" r="1.95" fill="none" stroke="#3030d0" stroke-width="1.3"/>
<circle cx="244.68" cy="377.38" r="1.95" fill="none" stroke="#3030d0" stroke-width="1.3"/>
<circle cx="245.35" cy="376.41" r="1.95" fill="none" stroke="#3030d0" stroke-width="1.3"/>
<circle cx="246.47" cy="377.44" r="1.95" fill="none" stroke="#3030d0" stroke-width="1.3"/>
<circle cx="248.67" cy="375.51" r="1.95" fill="none" stroke="#3030d0" stroke-width="1.3"/>
<circle cx="250.55" cy="374.09" r="1.95" fill="none" stroke="#3030d0" stroke-width="1.3"/>
<circle cx="252.09" cy="372.68" r="1.95" fill="none" stroke="#3030d0" stroke-width="1.3"/>
<circle cx="254.32" cy="369.29" r="1.95" fill="none" stroke="#3030d0" stroke-width="1.3"/>
<circle cx="255.81" cy="366.33" r="1.95" fill="none" stroke="#3030d0" stroke-width="1.3"/>
<circle cx="257.78" cy="361.63" r="1.95" fill="none" stroke="#3030d0" stroke-width="1.3"/>
<circle cx="259.95" cy="357.13" r="1.95" fill="none" stroke="#3030d0" stroke-width="1.3"/>
<circle cx="261.66" cy="350.5" r="1.95" fill="none" stroke="#3030d0" stroke-width="1.3"/>
<circle cx="263.51" cy="344.12" r="1.95" fill="none" stroke="#3030d0" stroke-width="1.3"/>
<circle cx="265.15" cy="336.67" r="1.95" fill="none" stroke="#3030d0" stroke-width="1.3"/>
<circle cx="267.27" cy="325.9" r="1.95" fill="none" stroke="#3030d0" stroke-width="1.3"/>
<circle cx="269.33" cy="311.79" r="1.95" fill="none" stroke="#3030d0" stroke-width="1.3"/>
<circle cx="270.81" cy="300.79" r="1.95" fill="none" stroke="#3030d0" stroke-width="1.3"/>
<circle cx="272.82" cy="289.22" r="1.95" fill="none" stroke="#3030d0" stroke-width="1.3"/>
<circle cx="274.59" cy="279.04" r="1.95" fill="none" stroke="#3030d0" stroke-width="1.3"/>
<circle cx="276.51" cy="277.87" r="1.95" fill="none" stroke="#3030d0" stroke-width="1.3"/>
<circle cx="278.55" cy="278.09" r="1.95" fill="none" stroke="#3030d0" stroke-width="1.3"/>
<circle cx="280.11" cy="283.91" r="1.95" fill="none" stroke="#3030d0" stroke-width="1.3"/>
<circle cx="282.28" cy="291.24" r="1.95" fill="none" stroke="#3030d0" stroke-width="1.3"/>
<circle cx="283.56" cy="302.52" r="1.95" fill="none" stroke="#3030d0" stroke-width="1.3"/>
<circle cx="285.35" cy="314.89" r="1.95" fill="none" stroke="#3030d0" stroke-width="1.3"/>
<circle cx="288.32" cy="327.41" r="1.95" fill="none" stroke="#3030d0" stroke-width="1.3"/>
<circle cx="289.92" cy="339.17" r="1.95" fill="none" stroke="#3030d0" stroke-width="1.3"/>
<circle cx="291.69" cy="351.08" r="1.95" fill="none" stroke="#3030d0" stroke-width="1.3"/>
<circle cx="293.46" cy="361.22" r="1.95" fill="none" stroke="#3030d0" stroke-width="1.3"/>
<circle cx="295.89" cy="368.34" r="1.95" fill="none" stroke="#3030d0" stroke-width="1.3"/>
<circle cx="297.28" cy="372.95" r="1.95" fill="none" stroke="#3030d0" stroke-width="1.3"/>
<circle cx="299.3" cy="377.93" r="1.95" fill="none" stroke="#3030d0" stroke-width="1.3"/>
<circle cx="301.25" cy="381.14" r="1.95" fill="none" stroke="#3030d0" stroke-width="1.3"/>
<circle cx="303.4" cy="381.23" r="1.95" fill="none" stroke="#3030d0" stroke-width="1.3"/>
<circle cx="304.7" cy="385.13" r="1.95" fill="none" stroke="#3030d0" stroke-width="1.3"/>
<circle cx="305.63" cy="384.42" r="1.95" fill="none" stroke="#3030d0" stroke-width="1.3"/>
<circle cx="306.58" cy="384.36" r="1.95" fill="none" stroke="#3030d0" stroke-width="1.3"/>
<circle cx="307.6" cy="387.3" r="1.95" fill="none" stroke="#3030d0" stroke-width="1.3"/>
<circle cx="308.76" cy="385.03" r="1.95" fill="none" stroke="#3030d0" stroke-width="1.3"/>
<circle cx="309.28" cy="385.67" r="1.95" fill="none" stroke="#3030d0" stroke-width="1.3"/>
<circle cx="310.61" cy="385.5" r="1.95" fill="none" stroke="#3030d0" stroke-width="1.3"/>
<circle cx="311.2" cy="386.77" r="1.95" fill="none" stroke="#3030d0" stroke-width="1.3"/>
<circle cx="312.46" cy="385.95" r="1.95" fill="none" stroke="#3030d0" stroke-width="1.3"/>
<circle cx="312.99" cy="385.17" r="1.95" fill="none" stroke="#3030d0" stroke-width="1.3"/>
<circle cx="314.01" cy="384.72" r="1.95" fill="none" stroke="#3030d0" stroke-width="1.3"/>
<circle cx="315.26" cy="385.86" r="1.95" fill="none" stroke="#3030d0" stroke-width="1.3"/>
<circle cx="316.14" cy="387.62" r="1.95" fill="none" stroke="#3030d0" stroke-width="1.3"/>
<circle cx="317.23" cy="385.51" r="1.95" fill="none" stroke="#3030d0" stroke-width="1.3"/>
<circle cx="318.1" cy="387.13" r="1.95" fill="none" stroke="#3030d0" stroke-width="1.3"/>
<circle cx="318.7" cy="385.65" r="1.95" fill="none" stroke="#3030d0" stroke-width="1.3"/>
<circle cx="319.78" cy="385.19" r="1.95" fill="none" stroke="#3030d0" stroke-width="1.3"/>
<circle cx="321.05" cy="384.63" r="1.95" fill="none" stroke="#3030d0" stroke-width="1.3"/>
<circle cx="321.45" cy="386.12" r="1.95" fill="none" stroke="#3030d0" stroke-width="1.3"/>
<circle cx="322.57" cy="386.42" r="1.95" fill="none" stroke="#3030d0" stroke-width="1.3"/>
<circle cx="323.62" cy="386.15" r="1.95" fill="none" stroke="#3030d0" stroke-width="1.3"/>
<circle cx="324.74" cy="384.79" r="1.95" fill="none" stroke="#3030d0" stroke-width="1.3"/>
<circle cx="325.44" cy="385.78" r="1.95" fill="none" stroke="#3030d0" stroke-width="1.3"/>
<circle cx="326.41" cy="386.43" r="1.95" fill="none" stroke="#3030d0" stroke-width="1.3"/>
<circle cx="327.13" cy="385.82" r="1.95" fill="none" stroke="#3030d0" stroke-width="1.3"/>
<circle cx="328.43" cy="386.51" r="1.95" fill="none" stroke="#3030d0" stroke-width="1.3"/>
<circle cx="329.06" cy="387.68" r="1.95" fill="none" stroke="#3030d0" stroke-width="1.3"/>
<circle cx="330.62" cy="385.23" r="1.95" fill="none" stroke="#3030d0" stroke-width="1.3"/>
<circle cx="331.14" cy="388" r="1.95" fill="none" stroke="#3030d0" stroke-width="1.3"/>
<circle cx="332.18" cy="386.39" r="1.95" fill="none" stroke="#3030d0" stroke-width="1.3"/>
<circle cx="332.92" cy="385.85" r="1.95" fill="none" stroke="#3030d0" stroke-width="1.3"/>
<circle cx="333.86" cy="385.84" r="1.95" fill="none" stroke="#3030d0" stroke-width="1.3"/>
<circle cx="335" cy="385.94" r="1.95" fill="none" stroke="#3030d0" stroke-width="1.3"/>
<circle cx="335.69" cy="385.37" r="1.95" fill="none" stroke="#3030d0" stroke-width="1.3"/>
<circle cx="336.71" cy="385.58" r="1.95" fill="none" stroke="#3030d0" stroke-width="1.3"/>
<circle cx="337.62" cy="386.93" r="1.95" fill="none" stroke="#3030d0" stroke-width="1.3"/>
<circle cx="338.68" cy="386.54" r="1.95" fill="none" stroke="#3030d0" stroke-width="1.3"/>
<circle cx="339.61" cy="386.22" r="1.95" fill="none" stroke="#3030d0" stroke-width="1.3"/>
<circle cx="340.45" cy="385.96" r="1.95" fill="none" stroke="#3030d0" stroke-width="1.3"/>
<circle cx="341.58" cy="385.41" r="1.95" fill="none" stroke="#3030d0" stroke-width="1.3"/>
<circle cx="342.64" cy="386.19" r="1.95" fill="none" stroke="#3030d0" stroke-width="1.3"/>
<circle cx="343.14" cy="385.81" r="1.95" fill="none" stroke="#3030d0" stroke-width="1.3"/>
<circle cx="344.1" cy="386.26" r="1.95" fill="none" stroke="#3030d0" stroke-width="1.3"/>
<circle cx="345.03" cy="386.94" r="1.95" fill="none" stroke="#3030d0" stroke-width="1.3"/>
<circle cx="345.96" cy="384.55" r="1.95" fill="none" stroke="#3030d0" stroke-width="1.3"/>
<circle cx="346.91" cy="384.72" r="1.95" fill="none" stroke="#3030d0" stroke-width="1.3"/>
<circle cx="347.99" cy="386.87" r="1.95" fill="none" stroke="#3030d0" stroke-width="1.3"/>
<circle cx="349.08" cy="385.18" r="1.95" fill="none" stroke="#3030d0" stroke-width="1.3"/>
<circle cx="349.72" cy="387.36" r="1.95" fill="none" stroke="#3030d0" stroke-width="1.3"/>
<circle cx="350.89" cy="386.11" r="1.95" fill="none" stroke="#3030d0" stroke-width="1.3"/>
<circle cx="351.98" cy="387.81" r="1.95" fill="none" stroke="#3030d0" stroke-width="1.3"/>
<circle cx="352.97" cy="386.19" r="1.95" fill="none" stroke="#3030d0" stroke-width="1.3"/>
<polyline points="247.91,375.99 248.2,375.78 248.49,375.56 248.78,375.33 249.07,375.09 249.37,374.85 249.66,374.6 249.95,374.34 250.24,374.07 250.54,373.79 250.83,373.5 251.12,373.21 251.41,372.9 251.7,372.58 252,372.25 252.29,371.9 252.58,371.55 252.87,371.18 253.17,370.8 253.46,370.4 253.75,369.99 254.04,369.57 254.33,369.12 254.63,368.66 254.92,368.19 255.21,367.7 255.5,367.18 255.79,366.65 256.09,366.1 256.38,365.53 256.67,364.94 256.96,364.32 257.26,363.68 257.55,363.02 257.84,362.34 258.13,361.62 258.42,360.89 258.72,360.13 259.01,359.34 259.3,358.52 259.59,357.67 259.89,356.8 260.18,355.89 260.47,354.95 260.76,353.99 261.05,352.99 261.35,351.95 261.64,350.89 261.93,349.79 262.22,348.65 262.52,347.49 262.81,346.28 263.1,345.04 263.39,343.77 263.68,342.46 263.98,341.11 264.27,339.72 264.56,338.3 264.85,336.85 265.14,335.35 265.44,333.83 265.73,332.26 266.02,330.67 266.31,329.03 266.61,327.37 266.9,325.67 267.19,323.95 267.48,322.19 267.77,320.41 268.07,318.61 268.36,316.78 268.65,314.93 268.94,313.07 269.24,311.2 269.53,309.31 269.82,307.42 270.11,305.53 270.4,303.65 270.7,301.78 270.99,299.92 271.28,298.08 271.57,296.28 271.86,294.51 272.16,292.78 272.45,291.11 272.74,289.49 273.03,287.94 273.33,286.47 273.62,285.08 273.91,283.78 274.2,282.57 274.49,281.48 274.79,280.5 275.08,279.64 275.37,278.9 275.66,278.3 275.96,277.83 276.25,277.5" fill="none" stroke="#000" stroke-width="1.7" stroke-dasharray="3.6 2.2" stroke-dashoffset="42.38"/>
<polyline points="277.42,277.5 277.71,277.76 278,278.11 278.29,278.56 278.59,279.1 278.88,279.73 279.17,280.45 279.46,281.26 279.75,282.16 280.05,283.14 280.34,284.2 280.63,285.34 280.92,286.55 281.21,287.84 281.51,289.2 281.8,290.62 282.09,292.1 282.38,293.65 282.68,295.25 282.97,296.9 283.26,298.6 283.55,300.34 283.84,302.12 284.14,303.94 284.43,305.79 284.72,307.67 285.01,309.57 285.31,311.49 285.6,313.43 285.89,315.38 286.18,317.34 286.47,319.31 286.77,321.28 287.06,323.24 287.35,325.2 287.64,327.16 287.94,329.1 288.23,331.02 288.52,332.93 288.81,334.82 289.1,336.69 289.4,338.53 289.69,340.34 289.98,342.12 290.27,343.88 290.56,345.6 290.86,347.28 291.15,348.93 291.44,350.54 291.73,352.11 292.03,353.64 292.32,355.13 292.61,356.58 292.9,357.99 293.19,359.36 293.49,360.68 293.78,361.96 294.07,363.2 294.36,364.39 294.66,365.54 294.95,366.65 295.24,367.71 295.53,368.74 295.82,369.72 296.12,370.66 296.41,371.57 296.7,372.43 296.99,373.25 297.28,374.04 297.58,374.79 297.87,375.5 298.16,376.18 298.45,376.83 298.75,377.44 299.04,378.02 299.33,378.57 299.62,379.09 299.91,379.59 300.21,380.05 300.5,380.49 300.79,380.9 301.08,381.29 301.38,381.66 301.67,382 301.96,382.32 302.25,382.62 302.54,382.91 302.84,383.17 303.13,383.42 303.42,383.65 303.71,383.86" fill="none" stroke="#000" stroke-width="1.7" stroke-dasharray="3.6 2.2" stroke-dashoffset="147.84"/>
<clipPath id="cpb"><rect x="367.6" y="140" width="152" height="131"/></clipPath>
<circle cx="368.8" cy="55.4" r="2.0" fill="none" stroke="#3030d0" stroke-width="1.35"/>
<circle cx="370.8" cy="50.3" r="2.0" fill="none" stroke="#3030d0" stroke-width="1.35"/>
<circle cx="372.8" cy="28.2" r="2.0" fill="none" stroke="#3030d0" stroke-width="1.35"/>
<circle cx="375.1" cy="46.5" r="2.0" fill="none" stroke="#3030d0" stroke-width="1.35"/>
<circle cx="377.4" cy="40" r="2.0" fill="none" stroke="#3030d0" stroke-width="1.35"/>
<circle cx="379.2" cy="44.6" r="2.0" fill="none" stroke="#3030d0" stroke-width="1.35"/>
<circle cx="381.8" cy="47.2" r="2.0" fill="none" stroke="#3030d0" stroke-width="1.35"/>
<circle cx="383.5" cy="28.2" r="2.0" fill="none" stroke="#3030d0" stroke-width="1.35"/>
<circle cx="386.2" cy="42" r="2.0" fill="none" stroke="#3030d0" stroke-width="1.35"/>
<circle cx="390.3" cy="45.4" r="2.0" fill="none" stroke="#3030d0" stroke-width="1.35"/>
<circle cx="392.3" cy="31.2" r="2.0" fill="none" stroke="#3030d0" stroke-width="1.35"/>
<circle cx="394.6" cy="36.2" r="2.0" fill="none" stroke="#3030d0" stroke-width="1.35"/>
<circle cx="396.9" cy="37.4" r="2.0" fill="none" stroke="#3030d0" stroke-width="1.35"/>
<circle cx="398.5" cy="26.2" r="2.0" fill="none" stroke="#3030d0" stroke-width="1.35"/>
<circle cx="401.2" cy="23.8" r="2.0" fill="none" stroke="#3030d0" stroke-width="1.35"/>
<circle cx="403.4" cy="33.8" r="2.0" fill="none" stroke="#3030d0" stroke-width="1.35"/>
<circle cx="405.8" cy="27.2" r="2.0" fill="none" stroke="#3030d0" stroke-width="1.35"/>
<circle cx="407.7" cy="24.2" r="2.0" fill="none" stroke="#3030d0" stroke-width="1.35"/>
<circle cx="410" cy="20.8" r="2.0" fill="none" stroke="#3030d0" stroke-width="1.35"/>
<circle cx="412.3" cy="28.2" r="2.0" fill="none" stroke="#3030d0" stroke-width="1.35"/>
<circle cx="414.2" cy="30.8" r="2.0" fill="none" stroke="#3030d0" stroke-width="1.35"/>
<circle cx="416.6" cy="30" r="2.0" fill="none" stroke="#3030d0" stroke-width="1.35"/>
<circle cx="419.2" cy="30.8" r="2.0" fill="none" stroke="#3030d0" stroke-width="1.35"/>
<circle cx="421.1" cy="32.3" r="2.0" fill="none" stroke="#3030d0" stroke-width="1.35"/>
<circle cx="422.8" cy="36.2" r="2.0" fill="none" stroke="#3030d0" stroke-width="1.35"/>
<circle cx="425.4" cy="26.9" r="2.0" fill="none" stroke="#3030d0" stroke-width="1.35"/>
<circle cx="427.2" cy="49.2" r="2.0" fill="none" stroke="#3030d0" stroke-width="1.35"/>
<circle cx="429.7" cy="30" r="2.0" fill="none" stroke="#3030d0" stroke-width="1.35"/>
<circle cx="431.6" cy="42.3" r="2.0" fill="none" stroke="#3030d0" stroke-width="1.35"/>
<circle cx="434" cy="40.7" r="2.0" fill="none" stroke="#3030d0" stroke-width="1.35"/>
<circle cx="436.5" cy="46.3" r="2.0" fill="none" stroke="#3030d0" stroke-width="1.35"/>
<circle cx="438.1" cy="43.1" r="2.0" fill="none" stroke="#3030d0" stroke-width="1.35"/>
<circle cx="440.5" cy="47.9" r="2.0" fill="none" stroke="#3030d0" stroke-width="1.35"/>
<circle cx="444.5" cy="56" r="2.0" fill="none" stroke="#3030d0" stroke-width="1.35"/>
<circle cx="442.1" cy="61.7" r="2.0" fill="none" stroke="#3030d0" stroke-width="1.35"/>
<circle cx="446.2" cy="68.9" r="2.0" fill="none" stroke="#3030d0" stroke-width="1.35"/>
<circle cx="449.4" cy="73.8" r="2.0" fill="none" stroke="#3030d0" stroke-width="1.35"/>
<circle cx="451" cy="75.4" r="2.0" fill="none" stroke="#3030d0" stroke-width="1.35"/>
<circle cx="453.4" cy="85.9" r="2.0" fill="none" stroke="#3030d0" stroke-width="1.35"/>
<circle cx="457.5" cy="86.7" r="2.0" fill="none" stroke="#3030d0" stroke-width="1.35"/>
<circle cx="459.9" cy="95.6" r="2.0" fill="none" stroke="#3030d0" stroke-width="1.35"/>
<circle cx="461.5" cy="98" r="2.0" fill="none" stroke="#3030d0" stroke-width="1.35"/>
<circle cx="463.1" cy="101.2" r="2.0" fill="none" stroke="#3030d0" stroke-width="1.35"/>
<circle cx="464.7" cy="105.3" r="2.0" fill="none" stroke="#3030d0" stroke-width="1.35"/>
<circle cx="466.3" cy="103.1" r="2.0" fill="none" stroke="#3030d0" stroke-width="1.35"/>
<circle cx="469.2" cy="107.7" r="2.0" fill="none" stroke="#3030d0" stroke-width="1.35"/>
<circle cx="472.1" cy="108.3" r="2.0" fill="none" stroke="#3030d0" stroke-width="1.35"/>
<circle cx="475" cy="111.7" r="2.0" fill="none" stroke="#3030d0" stroke-width="1.35"/>
<circle cx="477.3" cy="112.9" r="2.0" fill="none" stroke="#3030d0" stroke-width="1.35"/>
<circle cx="479.6" cy="106.5" r="2.0" fill="none" stroke="#3030d0" stroke-width="1.35"/>
<circle cx="481.3" cy="110" r="2.0" fill="none" stroke="#3030d0" stroke-width="1.35"/>
<circle cx="483.6" cy="112.3" r="2.0" fill="none" stroke="#3030d0" stroke-width="1.35"/>
<circle cx="486.5" cy="108.8" r="2.0" fill="none" stroke="#3030d0" stroke-width="1.35"/>
<circle cx="488.3" cy="106.5" r="2.0" fill="none" stroke="#3030d0" stroke-width="1.35"/>
<circle cx="490.6" cy="108.3" r="2.0" fill="none" stroke="#3030d0" stroke-width="1.35"/>
<circle cx="492.9" cy="112.9" r="2.0" fill="none" stroke="#3030d0" stroke-width="1.35"/>
<circle cx="494.6" cy="108.8" r="2.0" fill="none" stroke="#3030d0" stroke-width="1.35"/>
<circle cx="496.9" cy="108.3" r="2.0" fill="none" stroke="#3030d0" stroke-width="1.35"/>
<circle cx="499.2" cy="111.1" r="2.0" fill="none" stroke="#3030d0" stroke-width="1.35"/>
<circle cx="501.5" cy="109.4" r="2.0" fill="none" stroke="#3030d0" stroke-width="1.35"/>
<circle cx="503.6" cy="112.3" r="2.0" fill="none" stroke="#3030d0" stroke-width="1.35"/>
<circle cx="505.6" cy="110.6" r="2.0" fill="none" stroke="#3030d0" stroke-width="1.35"/>
<circle cx="507.3" cy="108.3" r="2.0" fill="none" stroke="#3030d0" stroke-width="1.35"/>
<circle cx="509.6" cy="107.1" r="2.0" fill="none" stroke="#3030d0" stroke-width="1.35"/>
<circle cx="511.9" cy="106" r="2.0" fill="none" stroke="#3030d0" stroke-width="1.35"/>
<circle cx="514.2" cy="113.5" r="2.0" fill="none" stroke="#3030d0" stroke-width="1.35"/>
<circle cx="515.9" cy="106.5" r="2.0" fill="none" stroke="#3030d0" stroke-width="1.35"/>
<circle cx="517.7" cy="111.1" r="2.0" fill="none" stroke="#3030d0" stroke-width="1.35"/>
<g clip-path="url(#cpb)">
<circle cx="367.3" cy="180.2" r="2.0" fill="none" stroke="#3030d0" stroke-width="1.35"/>
<circle cx="368.5" cy="179.2" r="2.0" fill="none" stroke="#3030d0" stroke-width="1.35"/>
<circle cx="370" cy="178.5" r="2.0" fill="none" stroke="#3030d0" stroke-width="1.35"/>
<circle cx="372.3" cy="177.7" r="2.0" fill="none" stroke="#3030d0" stroke-width="1.35"/>
<circle cx="374.6" cy="176.9" r="2.0" fill="none" stroke="#3030d0" stroke-width="1.35"/>
<circle cx="376.6" cy="174.6" r="2.0" fill="none" stroke="#3030d0" stroke-width="1.35"/>
<circle cx="379.2" cy="175.4" r="2.0" fill="none" stroke="#3030d0" stroke-width="1.35"/>
<circle cx="381.5" cy="177.4" r="2.0" fill="none" stroke="#3030d0" stroke-width="1.35"/>
<circle cx="383.4" cy="173.1" r="2.0" fill="none" stroke="#3030d0" stroke-width="1.35"/>
<circle cx="385.4" cy="176.2" r="2.0" fill="none" stroke="#3030d0" stroke-width="1.35"/>
<circle cx="387.4" cy="177.4" r="2.0" fill="none" stroke="#3030d0" stroke-width="1.35"/>
<circle cx="390" cy="174.6" r="2.0" fill="none" stroke="#3030d0" stroke-width="1.35"/>
<circle cx="392.3" cy="177.4" r="2.0" fill="none" stroke="#3030d0" stroke-width="1.35"/>
<circle cx="394.2" cy="171.5" r="2.0" fill="none" stroke="#3030d0" stroke-width="1.35"/>
<circle cx="396.6" cy="174.6" r="2.0" fill="none" stroke="#3030d0" stroke-width="1.35"/>
<circle cx="398.5" cy="160.8" r="2.0" fill="none" stroke="#3030d0" stroke-width="1.35"/>
<circle cx="400.8" cy="173.8" r="2.0" fill="none" stroke="#3030d0" stroke-width="1.35"/>
<circle cx="403.1" cy="174.6" r="2.0" fill="none" stroke="#3030d0" stroke-width="1.35"/>
<circle cx="405.4" cy="176.2" r="2.0" fill="none" stroke="#3030d0" stroke-width="1.35"/>
<circle cx="407.4" cy="164.2" r="2.0" fill="none" stroke="#3030d0" stroke-width="1.35"/>
<circle cx="409.5" cy="161.5" r="2.0" fill="none" stroke="#3030d0" stroke-width="1.35"/>
<circle cx="411.5" cy="169.2" r="2.0" fill="none" stroke="#3030d0" stroke-width="1.35"/>
<circle cx="413.5" cy="166.2" r="2.0" fill="none" stroke="#3030d0" stroke-width="1.35"/>
<circle cx="416.2" cy="165.4" r="2.0" fill="none" stroke="#3030d0" stroke-width="1.35"/>
<circle cx="418.5" cy="166.9" r="2.0" fill="none" stroke="#3030d0" stroke-width="1.35"/>
<circle cx="420.8" cy="170" r="2.0" fill="none" stroke="#3030d0" stroke-width="1.35"/>
<circle cx="422.8" cy="166.2" r="2.0" fill="none" stroke="#3030d0" stroke-width="1.35"/>
<circle cx="424.6" cy="174.6" r="2.0" fill="none" stroke="#3030d0" stroke-width="1.35"/>
<circle cx="426.9" cy="170.8" r="2.0" fill="none" stroke="#3030d0" stroke-width="1.35"/>
<circle cx="429.2" cy="166.9" r="2.0" fill="none" stroke="#3030d0" stroke-width="1.35"/>
<circle cx="431.5" cy="162" r="2.0" fill="none" stroke="#3030d0" stroke-width="1.35"/>
<circle cx="433.2" cy="167.9" r="2.0" fill="none" stroke="#3030d0" stroke-width="1.35"/>
<circle cx="435.8" cy="167.9" r="2.0" fill="none" stroke="#3030d0" stroke-width="1.35"/>
<circle cx="437.8" cy="163.4" r="2.0" fill="none" stroke="#3030d0" stroke-width="1.35"/>
<circle cx="439.7" cy="167.9" r="2.0" fill="none" stroke="#3030d0" stroke-width="1.35"/>
<circle cx="442.3" cy="172.5" r="2.0" fill="none" stroke="#3030d0" stroke-width="1.35"/>
<circle cx="443.6" cy="174.4" r="2.0" fill="none" stroke="#3030d0" stroke-width="1.35"/>
<circle cx="446.6" cy="173.1" r="2.0" fill="none" stroke="#3030d0" stroke-width="1.35"/>
<circle cx="448.8" cy="178.3" r="2.0" fill="none" stroke="#3030d0" stroke-width="1.35"/>
<circle cx="453" cy="186.4" r="2.0" fill="none" stroke="#3030d0" stroke-width="1.35"/>
<circle cx="455.6" cy="196.7" r="2.0" fill="none" stroke="#3030d0" stroke-width="1.35"/>
<circle cx="457.4" cy="199.6" r="2.0" fill="none" stroke="#3030d0" stroke-width="1.35"/>
<circle cx="460" cy="207.4" r="2.0" fill="none" stroke="#3030d0" stroke-width="1.35"/>
<circle cx="461.7" cy="211.3" r="2.0" fill="none" stroke="#3030d0" stroke-width="1.35"/>
<circle cx="463.1" cy="226.9" r="2.0" fill="none" stroke="#3030d0" stroke-width="1.35"/>
<circle cx="465.8" cy="229.2" r="2.0" fill="none" stroke="#3030d0" stroke-width="1.35"/>
<circle cx="467.5" cy="237.8" r="2.0" fill="none" stroke="#3030d0" stroke-width="1.35"/>
<circle cx="469.2" cy="239.5" r="2.0" fill="none" stroke="#3030d0" stroke-width="1.35"/>
<circle cx="471.5" cy="241.2" r="2.0" fill="none" stroke="#3030d0" stroke-width="1.35"/>
<circle cx="473.8" cy="243" r="2.0" fill="none" stroke="#3030d0" stroke-width="1.35"/>
<circle cx="476.1" cy="244.7" r="2.0" fill="none" stroke="#3030d0" stroke-width="1.35"/>
<circle cx="478.5" cy="244.1" r="2.0" fill="none" stroke="#3030d0" stroke-width="1.35"/>
<circle cx="480.2" cy="245.8" r="2.0" fill="none" stroke="#3030d0" stroke-width="1.35"/>
<circle cx="482.5" cy="247" r="2.0" fill="none" stroke="#3030d0" stroke-width="1.35"/>
<circle cx="483.6" cy="251" r="2.0" fill="none" stroke="#3030d0" stroke-width="1.35"/>
<circle cx="485.4" cy="247.6" r="2.0" fill="none" stroke="#3030d0" stroke-width="1.35"/>
<circle cx="487.7" cy="248.1" r="2.0" fill="none" stroke="#3030d0" stroke-width="1.35"/>
<circle cx="489.4" cy="249.3" r="2.0" fill="none" stroke="#3030d0" stroke-width="1.35"/>
<circle cx="491.7" cy="249.9" r="2.0" fill="none" stroke="#3030d0" stroke-width="1.35"/>
<circle cx="494" cy="249.3" r="2.0" fill="none" stroke="#3030d0" stroke-width="1.35"/>
<circle cx="496.3" cy="249.9" r="2.0" fill="none" stroke="#3030d0" stroke-width="1.35"/>
<circle cx="498.6" cy="251" r="2.0" fill="none" stroke="#3030d0" stroke-width="1.35"/>
<circle cx="500.9" cy="249.3" r="2.0" fill="none" stroke="#3030d0" stroke-width="1.35"/>
<circle cx="503.3" cy="248.1" r="2.0" fill="none" stroke="#3030d0" stroke-width="1.35"/>
<circle cx="505.6" cy="248.7" r="2.0" fill="none" stroke="#3030d0" stroke-width="1.35"/>
<circle cx="507.9" cy="248.1" r="2.0" fill="none" stroke="#3030d0" stroke-width="1.35"/>
<circle cx="510.2" cy="249.3" r="2.0" fill="none" stroke="#3030d0" stroke-width="1.35"/>
<circle cx="512.5" cy="248.7" r="2.0" fill="none" stroke="#3030d0" stroke-width="1.35"/>
<circle cx="514.8" cy="249.3" r="2.0" fill="none" stroke="#3030d0" stroke-width="1.35"/>
<circle cx="517.1" cy="249.9" r="2.0" fill="none" stroke="#3030d0" stroke-width="1.35"/>
</g>
<line x1="436" y1="109.9" x2="519" y2="109.9" stroke="#e3262b" stroke-width="1.6"/>
<line x1="439.2" y1="45.5" x2="474" y2="127.3" stroke="#e3262b" stroke-width="1.6"/>
<line x1="440" y1="248.6" x2="519" y2="248.6" stroke="#e3262b" stroke-width="1.6"/>
<line x1="445.8" y1="178.8" x2="481.3" y2="263.8" stroke="#e3262b" stroke-width="1.6"/>
<line x1="281.6" y1="71.8" x2="440.2" y2="71.8" stroke="#000" stroke-width="1.8" stroke-dasharray="3.7 1.6"/>
<path d="M277.6 71.8 L282.6 69.6 L282.6 74 Z" fill="#000"/>
<path d="M444.2 71.8 L439.2 69.6 L439.2 74 Z" fill="#000"/>
<line x1="123" y1="185.2" x2="467.5" y2="185.2" stroke="#000" stroke-width="1.8" stroke-dasharray="3.7 1.6"/>
<path d="M119 185.2 L124 183 L124 187.4 Z" fill="#000"/>
<path d="M471.5 185.2 L466.5 183 L466.5 187.4 Z" fill="#000"/>
<line x1="120.4" y1="321.1" x2="272" y2="321.1" stroke="#000" stroke-width="1.8" stroke-dasharray="3.7 1.6"/>
<path d="M116.4 321.1 L121.4 318.9 L121.4 323.3 Z" fill="#000"/>
<path d="M276 321.1 L271 318.9 L271 323.3 Z" fill="#000"/>
<rect x="43.8" y="52.3" width="211.4" height="26.3" fill="#fff" stroke="#e3262b" stroke-width="1.6"/>
<rect x="166.8" y="205.3" width="279.2" height="26.2" fill="#fff" stroke="#e3262b" stroke-width="1.6"/>
<rect x="310.8" y="317.8" width="199.8" height="26.7" fill="#fff" stroke="#e3262b" stroke-width="1.6"/>
<text x="46.6" y="31.6" style="font-family:'Liberation Sans',Arial,sans-serif;font-weight:bold;stroke:#000;stroke-width:0.1px;font-size:24.5px" textLength="29.2" lengthAdjust="spacingAndGlyphs">(a)</text>
<text x="45.4" y="166.2" style="font-family:'Liberation Sans',Arial,sans-serif;font-weight:bold;stroke:#000;stroke-width:0.1px;font-size:24.5px" textLength="30" lengthAdjust="spacingAndGlyphs">(b)</text>
<text x="46.3" y="298.1" style="font-family:'Liberation Sans',Arial,sans-serif;font-weight:bold;stroke:#000;stroke-width:0.1px;font-size:24.5px" textLength="27" lengthAdjust="spacingAndGlyphs">(c)</text>
<text x="50.2" y="71.6" style="font-family:'Liberation Sans',Arial,sans-serif;font-weight:bold;stroke:#000;stroke-width:0.35px;font-size:16.0px" textLength="197.8" lengthAdjust="spacingAndGlyphs"><tspan>α-Al</tspan><tspan dy="4.3" font-size="12.4">2</tspan><tspan dy="-4.3">O</tspan><tspan dy="4.3" font-size="12.4">3</tspan><tspan dy="-4.3">/sapphire substrate</tspan></text>
<text x="286" y="27.7" style="font-family:'Liberation Sans',Arial,sans-serif;font-weight:bold;stroke:#000;stroke-width:0.35px;font-size:16.8px" textLength="42.2" lengthAdjust="spacingAndGlyphs">Al 2p</text>
<text x="474.2" y="29.8" style="font-family:'Liberation Sans',Arial,sans-serif;font-weight:bold;stroke:#000;stroke-width:0.35px;font-size:17.2px" textLength="23.2" lengthAdjust="spacingAndGlyphs">VB</text>
<text x="131.2" y="162.3" style="font-family:'Liberation Sans',Arial,sans-serif;font-weight:bold;stroke:#000;stroke-width:0.35px;font-size:17.0px" textLength="45.8" lengthAdjust="spacingAndGlyphs">Ga 3s</text>
<text x="479.3" y="175.1" style="font-family:'Liberation Sans',Arial,sans-serif;font-weight:bold;stroke:#000;stroke-width:0.35px;font-size:17.2px" textLength="23.4" lengthAdjust="spacingAndGlyphs">VB</text>
<text x="128.9" y="295.2" style="font-family:'Liberation Sans',Arial,sans-serif;font-weight:bold;stroke:#000;stroke-width:0.35px;font-size:17.0px" textLength="45.8" lengthAdjust="spacingAndGlyphs">Ga 3s</text>
<text x="286.4" y="292.5" style="font-family:'Liberation Sans',Arial,sans-serif;font-weight:bold;stroke:#000;stroke-width:0.35px;font-size:17.0px" textLength="42.8" lengthAdjust="spacingAndGlyphs">Al 2p</text>
<text x="175.8" y="224.2" style="font-family:'Liberation Sans',Arial,sans-serif;font-weight:bold;stroke:#000;stroke-width:0.35px;font-size:16.0px" textLength="260" lengthAdjust="spacingAndGlyphs"><tspan>α-(Al</tspan><tspan dy="4.3" font-size="12.4">0.5</tspan><tspan dy="-4.3">Ga</tspan><tspan dy="4.3" font-size="12.4">0.5</tspan><tspan dy="-4.3">)</tspan><tspan dy="4.3" font-size="12.4">2</tspan><tspan dy="-4.3">O</tspan><tspan dy="4.3" font-size="12.4">3</tspan><tspan dy="-4.3"> /sapphire substrate</tspan></text>
<text x="321.8" y="337.4" style="font-family:'Liberation Sans',Arial,sans-serif;font-weight:bold;stroke:#000;stroke-width:0.35px;font-size:16.0px" textLength="177.2" lengthAdjust="spacingAndGlyphs"><tspan>α-(Al</tspan><tspan dy="4.3" font-size="12.4">0.5</tspan><tspan dy="-4.3">Ga</tspan><tspan dy="4.3" font-size="12.4">0.5</tspan><tspan dy="-4.3">)</tspan><tspan dy="4.3" font-size="12.4">2</tspan><tspan dy="-4.3">O</tspan><tspan dy="4.3" font-size="12.4">3</tspan><tspan dy="-4.3">/α-Al</tspan><tspan dy="4.3" font-size="12.4">2</tspan><tspan dy="-4.3">O</tspan><tspan dy="4.3" font-size="12.4">3</tspan></text>
<text x="314.5" y="90.3" style="font-family:'Liberation Serif','Times New Roman',serif;font-weight:bold;stroke:#000;stroke-width:0.4px;font-size:18.8px" textLength="102.5" lengthAdjust="spacingAndGlyphs">70.75 ± 0.04</text>
<text x="226.6" y="179.2" style="font-family:'Liberation Serif','Times New Roman',serif;font-weight:bold;stroke:#000;stroke-width:0.4px;font-size:19.4px" textLength="113" lengthAdjust="spacingAndGlyphs">157.36 ± 0.04</text>
<text x="145.5" y="340" style="font-family:'Liberation Serif','Times New Roman',serif;font-weight:bold;stroke:#000;stroke-width:0.4px;font-size:19.0px" textLength="102.8" lengthAdjust="spacingAndGlyphs">86.51 ± 0.02</text>
<text x="43" y="423.2" style="font-family:'Liberation Sans',Arial,sans-serif;font-weight:bold;stroke:#000;stroke-width:0.35px;font-size:14.6px" textLength="25.4" lengthAdjust="spacingAndGlyphs">165</text>
<text x="83" y="423.2" style="font-family:'Liberation Sans',Arial,sans-serif;font-weight:bold;stroke:#000;stroke-width:0.35px;font-size:14.6px" textLength="25.1" lengthAdjust="spacingAndGlyphs">162</text>
<text x="122.5" y="423.1" style="font-family:'Liberation Sans',Arial,sans-serif;font-weight:bold;stroke:#000;stroke-width:0.35px;font-size:14.6px" textLength="25.8" lengthAdjust="spacingAndGlyphs">159</text>
<text x="166.3" y="423.1" style="font-family:'Liberation Sans',Arial,sans-serif;font-weight:bold;stroke:#000;stroke-width:0.35px;font-size:14.6px" textLength="25.1" lengthAdjust="spacingAndGlyphs">156</text>
<text x="199.4" y="423.8" style="font-family:'Liberation Sans',Arial,sans-serif;font-weight:bold;stroke:#000;stroke-width:0.35px;font-size:14.6px" textLength="16.6" lengthAdjust="spacingAndGlyphs">78</text>
<text x="251.7" y="423.8" style="font-family:'Liberation Sans',Arial,sans-serif;font-weight:bold;stroke:#000;stroke-width:0.35px;font-size:14.6px" textLength="17" lengthAdjust="spacingAndGlyphs">75</text>
<text x="309.8" y="424.1" style="font-family:'Liberation Sans',Arial,sans-serif;font-weight:bold;stroke:#000;stroke-width:0.35px;font-size:14.6px" textLength="16.6" lengthAdjust="spacingAndGlyphs">72</text>
<text x="364.1" y="423.3" style="font-family:'Liberation Sans',Arial,sans-serif;font-weight:bold;stroke:#000;stroke-width:0.35px;font-size:14.6px" textLength="8.4" lengthAdjust="spacingAndGlyphs">8</text>
<text x="407.1" y="423.3" style="font-family:'Liberation Sans',Arial,sans-serif;font-weight:bold;stroke:#000;stroke-width:0.35px;font-size:14.6px" textLength="9.6" lengthAdjust="spacingAndGlyphs">6</text>
<text x="450.2" y="423.3" style="font-family:'Liberation Sans',Arial,sans-serif;font-weight:bold;stroke:#000;stroke-width:0.35px;font-size:14.6px" textLength="9.6" lengthAdjust="spacingAndGlyphs">4</text>
<text x="492.9" y="423.1" style="font-family:'Liberation Sans',Arial,sans-serif;font-weight:bold;stroke:#000;stroke-width:0.35px;font-size:14.6px" textLength="8.7" lengthAdjust="spacingAndGlyphs">2</text>
<text x="177" y="458.8" style="font-family:'Liberation Sans',Arial,sans-serif;font-weight:bold;stroke:#000;stroke-width:0.45px;font-size:20.0px" textLength="189.5" lengthAdjust="spacingAndGlyphs">Binding energy (eV)</text>
<text transform="translate(16.3,280.3) rotate(-90)" x="0" y="0" style="font-family:'Liberation Sans',Arial,sans-serif;font-weight:bold;stroke:#000;stroke-width:0.45px;font-size:20px" textLength="145.6" lengthAdjust="spacingAndGlyphs">Intensity (a. u.)</text>
</svg></body></html>
